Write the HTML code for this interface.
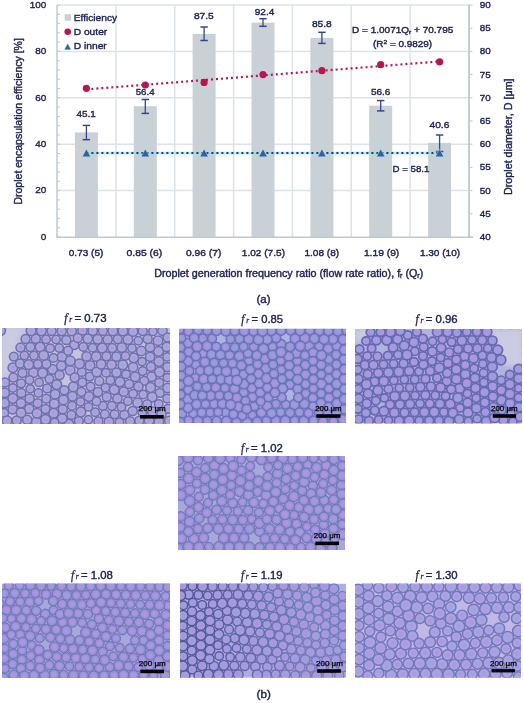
<!DOCTYPE html>
<html><head><meta charset="utf-8"><title>Droplet encapsulation</title>
<style>html,body{margin:0;padding:0;background:#fff;width:524px;height:703px;overflow:hidden}svg{display:block}</style>
</head><body>
<svg width="524" height="703" viewBox="0 0 524 703" font-family="'Liberation Sans', Arial, sans-serif"><defs><filter id="blur2" x="-20%" y="-20%" width="140%" height="140%"><feGaussianBlur stdDeviation="2"/></filter><filter id="blur" x="-5%" y="-5%" width="110%" height="110%"><feGaussianBlur stdDeviation="0.7"/></filter><clipPath id="c0"><rect x="2" y="328" width="168.0" height="96.0"/></clipPath><radialGradient id="g0_0"><stop offset="0" stop-color="#ae9bde"/><stop offset="0.3" stop-color="#ae9bde"/><stop offset="0.65" stop-color="#aca8db"/><stop offset="1" stop-color="#9d9ed0"/></radialGradient><radialGradient id="g0_1"><stop offset="0" stop-color="#aaa0de"/><stop offset="0.3" stop-color="#aaa0de"/><stop offset="0.65" stop-color="#a9aadb"/><stop offset="1" stop-color="#9b9cce"/></radialGradient><clipPath id="c1"><rect x="179" y="328.7" width="167.0" height="94.3"/></clipPath><radialGradient id="g1_0"><stop offset="0" stop-color="#ab94e4"/><stop offset="0.3" stop-color="#ab94e4"/><stop offset="0.65" stop-color="#9598d8"/><stop offset="1" stop-color="#767ac0"/></radialGradient><radialGradient id="g1_1"><stop offset="0" stop-color="#a497e2"/><stop offset="0.3" stop-color="#a497e2"/><stop offset="0.65" stop-color="#939ad6"/><stop offset="1" stop-color="#7478be"/></radialGradient><clipPath id="c2"><rect x="355" y="329" width="167.0" height="94.5"/></clipPath><radialGradient id="g2_0"><stop offset="0" stop-color="#ae94e6"/><stop offset="0.3" stop-color="#ae94e6"/><stop offset="0.65" stop-color="#a39adf"/><stop offset="1" stop-color="#9596d6"/></radialGradient><radialGradient id="g2_1"><stop offset="0" stop-color="#a897e4"/><stop offset="0.3" stop-color="#a897e4"/><stop offset="0.65" stop-color="#9d9cde"/><stop offset="1" stop-color="#9193d2"/></radialGradient><clipPath id="c3"><rect x="178" y="456" width="167.0" height="94.0"/></clipPath><radialGradient id="g3_0"><stop offset="0" stop-color="#b094e6"/><stop offset="0.3" stop-color="#b094e6"/><stop offset="0.65" stop-color="#9a96d6"/><stop offset="1" stop-color="#7f80c2"/></radialGradient><radialGradient id="g3_1"><stop offset="0" stop-color="#a897e4"/><stop offset="0.3" stop-color="#a897e4"/><stop offset="0.65" stop-color="#9898d4"/><stop offset="1" stop-color="#7d7ec0"/></radialGradient><clipPath id="c4"><rect x="2" y="583.4" width="168.0" height="94.6"/></clipPath><radialGradient id="g4_0"><stop offset="0" stop-color="#b094e6"/><stop offset="0.3" stop-color="#b094e6"/><stop offset="0.65" stop-color="#9a96d6"/><stop offset="1" stop-color="#7f80c2"/></radialGradient><radialGradient id="g4_1"><stop offset="0" stop-color="#a897e4"/><stop offset="0.3" stop-color="#a897e4"/><stop offset="0.65" stop-color="#9898d4"/><stop offset="1" stop-color="#7d7ec0"/></radialGradient><clipPath id="c5"><rect x="180" y="583.6" width="166.0" height="94.2"/></clipPath><radialGradient id="g5_0"><stop offset="0" stop-color="#ac94e4"/><stop offset="0.3" stop-color="#ac94e4"/><stop offset="0.65" stop-color="#a39ede"/><stop offset="1" stop-color="#9495d2"/></radialGradient><radialGradient id="g5_1"><stop offset="0" stop-color="#a699e2"/><stop offset="0.3" stop-color="#a699e2"/><stop offset="0.65" stop-color="#a1a0dc"/><stop offset="1" stop-color="#9293d0"/></radialGradient><clipPath id="c6"><rect x="355" y="583.4" width="166.0" height="94.4"/></clipPath><radialGradient id="g6_0"><stop offset="0" stop-color="#ae97e4"/><stop offset="0.3" stop-color="#ae97e4"/><stop offset="0.65" stop-color="#a9a6e2"/><stop offset="1" stop-color="#9a9cd3"/></radialGradient><radialGradient id="g6_1"><stop offset="0" stop-color="#aa9de4"/><stop offset="0.3" stop-color="#aa9de4"/><stop offset="0.65" stop-color="#a5a8e2"/><stop offset="1" stop-color="#989ad1"/></radialGradient></defs><line x1="57.0" y1="5.0" x2="469.0" y2="5.0" stroke="#dce3e8" stroke-width="1.5"/>
<line x1="57.0" y1="51.4" x2="469.0" y2="51.4" stroke="#dce3e8" stroke-width="1.5"/>
<line x1="57.0" y1="97.8" x2="469.0" y2="97.8" stroke="#dce3e8" stroke-width="1.5"/>
<line x1="57.0" y1="144.2" x2="469.0" y2="144.2" stroke="#dce3e8" stroke-width="1.5"/>
<line x1="57.0" y1="190.6" x2="469.0" y2="190.6" stroke="#dce3e8" stroke-width="1.5"/>
<line x1="115.9" y1="5.0" x2="115.9" y2="237.0" stroke="#dce3e8" stroke-width="1.5"/>
<line x1="174.7" y1="5.0" x2="174.7" y2="237.0" stroke="#dce3e8" stroke-width="1.5"/>
<line x1="233.6" y1="5.0" x2="233.6" y2="237.0" stroke="#dce3e8" stroke-width="1.5"/>
<line x1="292.4" y1="5.0" x2="292.4" y2="237.0" stroke="#dce3e8" stroke-width="1.5"/>
<line x1="351.3" y1="5.0" x2="351.3" y2="237.0" stroke="#dce3e8" stroke-width="1.5"/>
<line x1="410.1" y1="5.0" x2="410.1" y2="237.0" stroke="#dce3e8" stroke-width="1.5"/>
<rect x="74.9" y="132.4" width="23.0" height="104.6" fill="#c9d1d7"/>
<rect x="133.8" y="106.2" width="23.0" height="130.8" fill="#c9d1d7"/>
<rect x="192.6" y="34.0" width="23.0" height="203.0" fill="#c9d1d7"/>
<rect x="251.5" y="22.6" width="23.0" height="214.4" fill="#c9d1d7"/>
<rect x="310.4" y="37.9" width="23.0" height="199.1" fill="#c9d1d7"/>
<rect x="369.2" y="105.7" width="23.0" height="131.3" fill="#c9d1d7"/>
<rect x="428.1" y="142.8" width="23.0" height="94.2" fill="#c9d1d7"/>
<line x1="57.0" y1="5.0" x2="57.0" y2="237.5" stroke="#bccad2" stroke-width="1.5"/>
<line x1="469.0" y1="5.0" x2="469.0" y2="237.5" stroke="#bccad2" stroke-width="1.8"/>
<line x1="56.5" y1="237.3" x2="473.0" y2="237.3" stroke="#bccad2" stroke-width="1.6"/>
<line x1="57.0" y1="237.0" x2="60.0" y2="237.0" stroke="#bccad2" stroke-width="1"/>
<line x1="57.0" y1="227.7" x2="60.0" y2="227.7" stroke="#bccad2" stroke-width="1"/>
<line x1="57.0" y1="218.4" x2="60.0" y2="218.4" stroke="#bccad2" stroke-width="1"/>
<line x1="57.0" y1="209.2" x2="60.0" y2="209.2" stroke="#bccad2" stroke-width="1"/>
<line x1="57.0" y1="199.9" x2="60.0" y2="199.9" stroke="#bccad2" stroke-width="1"/>
<line x1="57.0" y1="190.6" x2="60.0" y2="190.6" stroke="#bccad2" stroke-width="1"/>
<line x1="57.0" y1="181.3" x2="60.0" y2="181.3" stroke="#bccad2" stroke-width="1"/>
<line x1="57.0" y1="172.0" x2="60.0" y2="172.0" stroke="#bccad2" stroke-width="1"/>
<line x1="57.0" y1="162.8" x2="60.0" y2="162.8" stroke="#bccad2" stroke-width="1"/>
<line x1="57.0" y1="153.5" x2="60.0" y2="153.5" stroke="#bccad2" stroke-width="1"/>
<line x1="57.0" y1="144.2" x2="60.0" y2="144.2" stroke="#bccad2" stroke-width="1"/>
<line x1="57.0" y1="134.9" x2="60.0" y2="134.9" stroke="#bccad2" stroke-width="1"/>
<line x1="57.0" y1="125.6" x2="60.0" y2="125.6" stroke="#bccad2" stroke-width="1"/>
<line x1="57.0" y1="116.4" x2="60.0" y2="116.4" stroke="#bccad2" stroke-width="1"/>
<line x1="57.0" y1="107.1" x2="60.0" y2="107.1" stroke="#bccad2" stroke-width="1"/>
<line x1="57.0" y1="97.8" x2="60.0" y2="97.8" stroke="#bccad2" stroke-width="1"/>
<line x1="57.0" y1="88.5" x2="60.0" y2="88.5" stroke="#bccad2" stroke-width="1"/>
<line x1="57.0" y1="79.2" x2="60.0" y2="79.2" stroke="#bccad2" stroke-width="1"/>
<line x1="57.0" y1="70.0" x2="60.0" y2="70.0" stroke="#bccad2" stroke-width="1"/>
<line x1="57.0" y1="60.7" x2="60.0" y2="60.7" stroke="#bccad2" stroke-width="1"/>
<line x1="57.0" y1="51.4" x2="60.0" y2="51.4" stroke="#bccad2" stroke-width="1"/>
<line x1="57.0" y1="42.1" x2="60.0" y2="42.1" stroke="#bccad2" stroke-width="1"/>
<line x1="57.0" y1="32.8" x2="60.0" y2="32.8" stroke="#bccad2" stroke-width="1"/>
<line x1="57.0" y1="23.6" x2="60.0" y2="23.6" stroke="#bccad2" stroke-width="1"/>
<line x1="57.0" y1="14.3" x2="60.0" y2="14.3" stroke="#bccad2" stroke-width="1"/>
<line x1="57.0" y1="5.0" x2="60.0" y2="5.0" stroke="#bccad2" stroke-width="1"/>
<line x1="469.0" y1="237.0" x2="472.5" y2="237.0" stroke="#bccad2" stroke-width="1"/>
<line x1="469.0" y1="213.8" x2="472.5" y2="213.8" stroke="#bccad2" stroke-width="1"/>
<line x1="469.0" y1="190.6" x2="472.5" y2="190.6" stroke="#bccad2" stroke-width="1"/>
<line x1="469.0" y1="167.4" x2="472.5" y2="167.4" stroke="#bccad2" stroke-width="1"/>
<line x1="469.0" y1="144.2" x2="472.5" y2="144.2" stroke="#bccad2" stroke-width="1"/>
<line x1="469.0" y1="121.0" x2="472.5" y2="121.0" stroke="#bccad2" stroke-width="1"/>
<line x1="469.0" y1="97.8" x2="472.5" y2="97.8" stroke="#bccad2" stroke-width="1"/>
<line x1="469.0" y1="74.6" x2="472.5" y2="74.6" stroke="#bccad2" stroke-width="1"/>
<line x1="469.0" y1="51.4" x2="472.5" y2="51.4" stroke="#bccad2" stroke-width="1"/>
<line x1="469.0" y1="28.2" x2="472.5" y2="28.2" stroke="#bccad2" stroke-width="1"/>
<line x1="469.0" y1="5.0" x2="472.5" y2="5.0" stroke="#bccad2" stroke-width="1"/>
<line x1="86.4" y1="125.4" x2="86.4" y2="139.7" stroke="#34488c" stroke-width="1.3"/>
<line x1="82.7" y1="125.4" x2="90.1" y2="125.4" stroke="#34488c" stroke-width="1.5"/>
<line x1="82.7" y1="139.7" x2="90.1" y2="139.7" stroke="#34488c" stroke-width="1.5"/>
<line x1="145.3" y1="99.5" x2="145.3" y2="113.4" stroke="#34488c" stroke-width="1.3"/>
<line x1="141.6" y1="99.5" x2="149.0" y2="99.5" stroke="#34488c" stroke-width="1.5"/>
<line x1="141.6" y1="113.4" x2="149.0" y2="113.4" stroke="#34488c" stroke-width="1.5"/>
<line x1="204.1" y1="27.0" x2="204.1" y2="40.5" stroke="#34488c" stroke-width="1.3"/>
<line x1="200.4" y1="27.0" x2="207.8" y2="27.0" stroke="#34488c" stroke-width="1.5"/>
<line x1="200.4" y1="40.5" x2="207.8" y2="40.5" stroke="#34488c" stroke-width="1.5"/>
<line x1="263.0" y1="18.7" x2="263.0" y2="26.3" stroke="#34488c" stroke-width="1.3"/>
<line x1="259.3" y1="18.7" x2="266.7" y2="18.7" stroke="#34488c" stroke-width="1.5"/>
<line x1="259.3" y1="26.3" x2="266.7" y2="26.3" stroke="#34488c" stroke-width="1.5"/>
<line x1="321.9" y1="32.3" x2="321.9" y2="43.4" stroke="#34488c" stroke-width="1.3"/>
<line x1="318.2" y1="32.3" x2="325.6" y2="32.3" stroke="#34488c" stroke-width="1.5"/>
<line x1="318.2" y1="43.4" x2="325.6" y2="43.4" stroke="#34488c" stroke-width="1.5"/>
<line x1="380.7" y1="100.6" x2="380.7" y2="110.9" stroke="#34488c" stroke-width="1.3"/>
<line x1="377.0" y1="100.6" x2="384.4" y2="100.6" stroke="#34488c" stroke-width="1.5"/>
<line x1="377.0" y1="110.9" x2="384.4" y2="110.9" stroke="#34488c" stroke-width="1.5"/>
<line x1="439.6" y1="135.0" x2="439.6" y2="151.5" stroke="#34488c" stroke-width="1.3"/>
<line x1="435.9" y1="135.0" x2="443.3" y2="135.0" stroke="#34488c" stroke-width="1.5"/>
<line x1="435.9" y1="151.5" x2="443.3" y2="151.5" stroke="#34488c" stroke-width="1.5"/>
<line x1="86.4" y1="153.0" x2="439.6" y2="153.0" stroke="#8fe6dc" stroke-width="3" stroke-dasharray="3 2" stroke-linecap="round" opacity="0.55"/>
<line x1="86.4" y1="153.0" x2="439.6" y2="153.0" stroke="#1f3a8c" stroke-width="2" stroke-dasharray="2 3"/>
<polygon points="86.4,149.6 90.2,156.4 82.7,156.4" fill="none" stroke="#8fe6dc" stroke-width="1.4" stroke-linejoin="round" opacity="0.7"/>
<polygon points="86.4,149.6 90.2,156.4 82.7,156.4" fill="#3b5aa6"/>
<polygon points="145.3,149.6 149.0,156.4 141.5,156.4" fill="none" stroke="#8fe6dc" stroke-width="1.4" stroke-linejoin="round" opacity="0.7"/>
<polygon points="145.3,149.6 149.0,156.4 141.5,156.4" fill="#3b5aa6"/>
<polygon points="204.1,149.6 207.9,156.4 200.4,156.4" fill="none" stroke="#8fe6dc" stroke-width="1.4" stroke-linejoin="round" opacity="0.7"/>
<polygon points="204.1,149.6 207.9,156.4 200.4,156.4" fill="#3b5aa6"/>
<polygon points="263.0,149.6 266.8,156.4 259.2,156.4" fill="none" stroke="#8fe6dc" stroke-width="1.4" stroke-linejoin="round" opacity="0.7"/>
<polygon points="263.0,149.6 266.8,156.4 259.2,156.4" fill="#3b5aa6"/>
<polygon points="321.9,149.6 325.6,156.4 318.1,156.4" fill="none" stroke="#8fe6dc" stroke-width="1.4" stroke-linejoin="round" opacity="0.7"/>
<polygon points="321.9,149.6 325.6,156.4 318.1,156.4" fill="#3b5aa6"/>
<polygon points="380.7,149.6 384.5,156.4 377.0,156.4" fill="none" stroke="#8fe6dc" stroke-width="1.4" stroke-linejoin="round" opacity="0.7"/>
<polygon points="380.7,149.6 384.5,156.4 377.0,156.4" fill="#3b5aa6"/>
<polygon points="439.6,149.6 443.3,156.4 435.8,156.4" fill="none" stroke="#8fe6dc" stroke-width="1.4" stroke-linejoin="round" opacity="0.7"/>
<polygon points="439.6,149.6 443.3,156.4 435.8,156.4" fill="#3b5aa6"/>
<line x1="86.4" y1="89.4" x2="439.6" y2="61.4" stroke="#b5175a" stroke-width="2.2" stroke-dasharray="2 3"/>
<circle cx="86.4" cy="88.3" r="3.6" fill="#b8164e"/>
<circle cx="145.3" cy="85.0" r="3.6" fill="#b8164e"/>
<circle cx="204.1" cy="82.4" r="3.6" fill="#b8164e"/>
<circle cx="263.0" cy="74.6" r="3.6" fill="#b8164e"/>
<circle cx="321.9" cy="70.7" r="3.6" fill="#b8164e"/>
<circle cx="380.7" cy="64.7" r="3.6" fill="#b8164e"/>
<circle cx="439.6" cy="61.8" r="3.6" fill="#b8164e"/>
<rect x="64.6" y="14.2" width="6.5" height="6.5" fill="#c9d1d7"/>
<circle cx="67.7" cy="31.8" r="3.3" fill="#b8164e"/>
<polygon points="67.7,44.0 70.7,49.4 64.7,49.4" fill="none" stroke="#8fe6dc" stroke-width="1.4" stroke-linejoin="round" opacity="0.7"/>
<polygon points="67.7,44.0 70.7,49.4 64.7,49.4" fill="#3b5aa6"/>
<text x="73.7" y="20.6" font-size="9.8" text-anchor="start" font-weight="normal" textLength="43.4" lengthAdjust="spacingAndGlyphs" fill="#1d2352" stroke="#1d2352" stroke-width="0.4">Efficiency</text>
<text x="73.7" y="35.3" font-size="9.8" text-anchor="start" font-weight="normal" textLength="33.6" lengthAdjust="spacingAndGlyphs" fill="#1d2352" stroke="#1d2352" stroke-width="0.4">D outer</text>
<text x="73.7" y="49.1" font-size="9.8" text-anchor="start" font-weight="normal" textLength="33.1" lengthAdjust="spacingAndGlyphs" fill="#1d2352" stroke="#1d2352" stroke-width="0.4">D inner</text>
<text x="76.5" y="117.2" font-size="9.8" text-anchor="start" font-weight="normal" textLength="19.3" lengthAdjust="spacingAndGlyphs" fill="#1d2352" stroke="#1d2352" stroke-width="0.4">45.1</text>
<text x="135.7" y="95.4" font-size="9.8" text-anchor="start" font-weight="normal" textLength="18.9" lengthAdjust="spacingAndGlyphs" fill="#1d2352" stroke="#1d2352" stroke-width="0.4">56.4</text>
<text x="193.9" y="18.8" font-size="9.8" text-anchor="start" font-weight="normal" textLength="19.9" lengthAdjust="spacingAndGlyphs" fill="#1d2352" stroke="#1d2352" stroke-width="0.4">87.5</text>
<text x="254.8" y="14.9" font-size="9.8" text-anchor="start" font-weight="normal" textLength="19.5" lengthAdjust="spacingAndGlyphs" fill="#1d2352" stroke="#1d2352" stroke-width="0.4">92.4</text>
<text x="311.9" y="27.0" font-size="9.8" text-anchor="start" font-weight="normal" textLength="19.9" lengthAdjust="spacingAndGlyphs" fill="#1d2352" stroke="#1d2352" stroke-width="0.4">85.8</text>
<text x="370.9" y="94.6" font-size="9.8" text-anchor="start" font-weight="normal" textLength="19.5" lengthAdjust="spacingAndGlyphs" fill="#1d2352" stroke="#1d2352" stroke-width="0.4">56.6</text>
<text x="429.5" y="128.4" font-size="9.8" text-anchor="start" font-weight="normal" textLength="19.9" lengthAdjust="spacingAndGlyphs" fill="#1d2352" stroke="#1d2352" stroke-width="0.4">40.6</text>
<text x="352.1" y="32.8" font-size="9" text-anchor="start" font-weight="normal" textLength="101.2" lengthAdjust="spacingAndGlyphs" fill="#1d2352" stroke="#1d2352" stroke-width="0.4">D = 1.0071Q<tspan font-size="6" dy="1.5">r</tspan><tspan dy="-1.5"> + 70.795</tspan></text>
<text x="373.0" y="46.9" font-size="9" text-anchor="start" font-weight="normal" textLength="59.0" lengthAdjust="spacingAndGlyphs" fill="#1d2352" stroke="#1d2352" stroke-width="0.4">(R<tspan font-size="6" dy="-3">2</tspan><tspan dy="3"> = 0.9829)</tspan></text>
<text x="392.4" y="172.4" font-size="9.5" text-anchor="start" font-weight="normal" textLength="37.1" lengthAdjust="spacingAndGlyphs" fill="#1d2352" stroke="#1d2352" stroke-width="0.4">D = 58.1</text>
<text x="46.2" y="239.7" font-size="9.9" text-anchor="end" font-weight="normal" fill="#1d2352" stroke="#1d2352" stroke-width="0.4">0</text>
<text x="46.2" y="193.3" font-size="9.9" text-anchor="end" font-weight="normal" fill="#1d2352" stroke="#1d2352" stroke-width="0.4">20</text>
<text x="46.2" y="146.9" font-size="9.9" text-anchor="end" font-weight="normal" fill="#1d2352" stroke="#1d2352" stroke-width="0.4">40</text>
<text x="46.2" y="100.5" font-size="9.9" text-anchor="end" font-weight="normal" fill="#1d2352" stroke="#1d2352" stroke-width="0.4">60</text>
<text x="46.2" y="54.1" font-size="9.9" text-anchor="end" font-weight="normal" fill="#1d2352" stroke="#1d2352" stroke-width="0.4">80</text>
<text x="46.2" y="7.7" font-size="9.9" text-anchor="end" font-weight="normal" fill="#1d2352" stroke="#1d2352" stroke-width="0.4">100</text>
<text x="479.8" y="239.9" font-size="9.9" text-anchor="start" font-weight="normal" fill="#1d2352" stroke="#1d2352" stroke-width="0.4">40</text>
<text x="479.8" y="216.7" font-size="9.9" text-anchor="start" font-weight="normal" fill="#1d2352" stroke="#1d2352" stroke-width="0.4">45</text>
<text x="479.8" y="193.5" font-size="9.9" text-anchor="start" font-weight="normal" fill="#1d2352" stroke="#1d2352" stroke-width="0.4">50</text>
<text x="479.8" y="170.3" font-size="9.9" text-anchor="start" font-weight="normal" fill="#1d2352" stroke="#1d2352" stroke-width="0.4">55</text>
<text x="479.8" y="147.1" font-size="9.9" text-anchor="start" font-weight="normal" fill="#1d2352" stroke="#1d2352" stroke-width="0.4">60</text>
<text x="479.8" y="123.9" font-size="9.9" text-anchor="start" font-weight="normal" fill="#1d2352" stroke="#1d2352" stroke-width="0.4">65</text>
<text x="479.8" y="100.7" font-size="9.9" text-anchor="start" font-weight="normal" fill="#1d2352" stroke="#1d2352" stroke-width="0.4">70</text>
<text x="479.8" y="77.5" font-size="9.9" text-anchor="start" font-weight="normal" fill="#1d2352" stroke="#1d2352" stroke-width="0.4">75</text>
<text x="479.8" y="54.3" font-size="9.9" text-anchor="start" font-weight="normal" fill="#1d2352" stroke="#1d2352" stroke-width="0.4">80</text>
<text x="479.8" y="31.1" font-size="9.9" text-anchor="start" font-weight="normal" fill="#1d2352" stroke="#1d2352" stroke-width="0.4">85</text>
<text x="479.8" y="7.9" font-size="9.9" text-anchor="start" font-weight="normal" fill="#1d2352" stroke="#1d2352" stroke-width="0.4">90</text>
<text x="68.8" y="255.8" font-size="9.2" text-anchor="start" font-weight="normal" textLength="34.5" lengthAdjust="spacingAndGlyphs" fill="#1d2352" stroke="#1d2352" stroke-width="0.4">0.73 (5)</text>
<text x="126.5" y="255.8" font-size="9.2" text-anchor="start" font-weight="normal" textLength="35.7" lengthAdjust="spacingAndGlyphs" fill="#1d2352" stroke="#1d2352" stroke-width="0.4">0.85 (6)</text>
<text x="186.0" y="255.8" font-size="9.2" text-anchor="start" font-weight="normal" textLength="35.3" lengthAdjust="spacingAndGlyphs" fill="#1d2352" stroke="#1d2352" stroke-width="0.4">0.96 (7)</text>
<text x="241.8" y="255.8" font-size="9.2" text-anchor="start" font-weight="normal" textLength="43.2" lengthAdjust="spacingAndGlyphs" fill="#1d2352" stroke="#1d2352" stroke-width="0.4">1.02 (7.5)</text>
<text x="304.4" y="255.8" font-size="9.2" text-anchor="start" font-weight="normal" textLength="34.7" lengthAdjust="spacingAndGlyphs" fill="#1d2352" stroke="#1d2352" stroke-width="0.4">1.08 (8)</text>
<text x="363.9" y="255.8" font-size="9.2" text-anchor="start" font-weight="normal" textLength="35.4" lengthAdjust="spacingAndGlyphs" fill="#1d2352" stroke="#1d2352" stroke-width="0.4">1.19 (9)</text>
<text x="419.9" y="255.8" font-size="9.2" text-anchor="start" font-weight="normal" textLength="40.2" lengthAdjust="spacingAndGlyphs" fill="#1d2352" stroke="#1d2352" stroke-width="0.4">1.30 (10)</text>
<text x="0" y="0" font-size="10.3" fill="#1d2352" stroke="#1d2352" stroke-width="0.4" textLength="166.5" lengthAdjust="spacingAndGlyphs" transform="translate(21.9,204.6) rotate(-90)">Droplet encapsulation efficiency [%]</text>
<text x="0" y="0" font-size="10.3" fill="#1d2352" stroke="#1d2352" stroke-width="0.4" textLength="116.6" lengthAdjust="spacingAndGlyphs" transform="translate(512.1,195) rotate(-90)">Droplet diameter, D [μm]</text>
<text x="154.2" y="276.9" font-size="10" text-anchor="start" font-weight="normal" textLength="269.1" lengthAdjust="spacingAndGlyphs" fill="#1d2352" stroke="#1d2352" stroke-width="0.4">Droplet generation frequency ratio (flow rate ratio), f<tspan font-size="6.5" dy="1.5">r</tspan><tspan dy="-1.5"> (Q</tspan><tspan font-size="6.5" dy="1.5">r</tspan><tspan dy="-1.5">)</tspan></text>
<text x="256.5" y="302.8" font-size="11" text-anchor="start" font-weight="normal" textLength="14.0" lengthAdjust="spacingAndGlyphs" fill="#1d2352" stroke="#1d2352" stroke-width="0.4">(a)</text>
<text x="256.5" y="697.8" font-size="11" text-anchor="start" font-weight="normal" textLength="14.3" lengthAdjust="spacingAndGlyphs" fill="#1d2352" stroke="#1d2352" stroke-width="0.4">(b)</text>
<g clip-path="url(#c0)">
<rect x="2" y="328" width="168.0" height="96.0" fill="#c3c3de"/>
<polygon points="2.0,328.0 22.0,328.0 18.0,338.0 14.0,352.0 10.0,362.0 6.0,376.0 2.0,382.0" fill="#cbcbe2" filter="url(#blur2)"/>
<g filter="url(#blur)" stroke="#7070ae" stroke-width="1.5">
<circle cx="90.0" cy="365.5" r="4.8" fill="url(#g0_0)"/>
<circle cx="167.4" cy="367.1" r="4.6" fill="url(#g0_1)"/>
<circle cx="16.7" cy="420.5" r="4.5" fill="url(#g0_0)"/>
<circle cx="167.1" cy="356.9" r="4.2" fill="url(#g0_1)"/>
<circle cx="56.8" cy="322.5" r="4.8" fill="url(#g0_0)"/>
<circle cx="71.4" cy="414.9" r="4.4" fill="url(#g0_0)"/>
<circle cx="152.9" cy="331.4" r="4.2" fill="url(#g0_1)"/>
<circle cx="77.0" cy="322.5" r="4.2" fill="url(#g0_0)"/>
<circle cx="98.4" cy="421.4" r="4.5" fill="url(#g0_0)"/>
<circle cx="4.7" cy="403.0" r="4.7" fill="url(#g0_0)"/>
<circle cx="133.8" cy="357.9" r="4.9" fill="url(#g0_0)"/>
<circle cx="92.8" cy="330.7" r="4.7" fill="url(#g0_1)"/>
<circle cx="52.5" cy="369.3" r="4.9" fill="url(#g0_1)"/>
<circle cx="150.1" cy="356.8" r="4.6" fill="url(#g0_0)"/>
<circle cx="45.5" cy="419.6" r="5.0" fill="url(#g0_1)"/>
<circle cx="81.7" cy="371.9" r="4.4" fill="url(#g0_1)"/>
<circle cx="68.8" cy="424.1" r="4.9" fill="url(#g0_0)"/>
<circle cx="29.6" cy="398.6" r="4.6" fill="url(#g0_1)"/>
<circle cx="35.8" cy="338.8" r="4.6" fill="url(#g0_0)"/>
<circle cx="133.1" cy="331.5" r="4.8" fill="url(#g0_1)"/>
<circle cx="49.4" cy="378.9" r="4.3" fill="url(#g0_1)"/>
<circle cx="82.5" cy="330.3" r="4.7" fill="url(#g0_0)"/>
<circle cx="175.5" cy="393.5" r="4.6" fill="url(#g0_1)"/>
<circle cx="167.6" cy="388.0" r="4.7" fill="url(#g0_1)"/>
<circle cx="137.7" cy="322.5" r="4.7" fill="url(#g0_1)"/>
<circle cx="95.2" cy="412.3" r="4.3" fill="url(#g0_0)"/>
<circle cx="36.3" cy="421.8" r="4.8" fill="url(#g0_0)"/>
<circle cx="22.6" cy="429.5" r="4.4" fill="url(#g0_1)"/>
<circle cx="167.9" cy="408.8" r="4.4" fill="url(#g0_0)"/>
<circle cx="88.9" cy="396.6" r="4.8" fill="url(#g0_0)"/>
<circle cx="97.8" cy="322.5" r="4.6" fill="url(#g0_1)"/>
<circle cx="142.7" cy="331.1" r="4.5" fill="url(#g0_1)"/>
<circle cx="103.7" cy="429.5" r="4.3" fill="url(#g0_1)"/>
<circle cx="159.7" cy="392.8" r="4.4" fill="url(#g0_1)"/>
<circle cx="96.2" cy="356.6" r="4.8" fill="url(#g0_1)"/>
<circle cx="80.5" cy="401.8" r="4.2" fill="url(#g0_0)"/>
<circle cx="0.8" cy="330.6" r="4.6" fill="url(#g0_0)"/>
<circle cx="121.8" cy="347.6" r="4.8" fill="url(#g0_1)"/>
<circle cx="158.5" cy="351.4" r="4.9" fill="url(#g0_0)"/>
<circle cx="105.4" cy="387.8" r="4.2" fill="url(#g0_0)"/>
<circle cx="47.1" cy="388.4" r="4.4" fill="url(#g0_1)"/>
<circle cx="151.7" cy="376.7" r="4.7" fill="url(#g0_1)"/>
<circle cx="89.7" cy="376.6" r="4.3" fill="url(#g0_1)"/>
<circle cx="90.6" cy="386.6" r="4.3" fill="url(#g0_1)"/>
<circle cx="134.9" cy="429.5" r="4.4" fill="url(#g0_1)"/>
<circle cx="12.9" cy="388.0" r="4.2" fill="url(#g0_1)"/>
<circle cx="139.3" cy="420.7" r="4.5" fill="url(#g0_0)"/>
<circle cx="117.9" cy="322.5" r="4.3" fill="url(#g0_0)"/>
<circle cx="150.9" cy="366.7" r="4.5" fill="url(#g0_0)"/>
<circle cx="21.3" cy="393.1" r="4.5" fill="url(#g0_0)"/>
<circle cx="143.2" cy="394.5" r="4.3" fill="url(#g0_1)"/>
<circle cx="34.0" cy="355.6" r="4.3" fill="url(#g0_1)"/>
<circle cx="154.5" cy="429.5" r="4.7" fill="url(#g0_1)"/>
<circle cx="152.2" cy="397.1" r="4.8" fill="url(#g0_1)"/>
<circle cx="144.2" cy="380.8" r="4.4" fill="url(#g0_0)"/>
<circle cx="87.5" cy="322.5" r="4.4" fill="url(#g0_0)"/>
<circle cx="46.6" cy="322.5" r="4.9" fill="url(#g0_0)"/>
<circle cx="-3.5" cy="347.0" r="4.3" fill="url(#g0_0)"/>
<circle cx="112.9" cy="330.9" r="4.8" fill="url(#g0_0)"/>
<circle cx="124.8" cy="429.5" r="4.6" fill="url(#g0_0)"/>
<circle cx="157.1" cy="322.5" r="4.9" fill="url(#g0_0)"/>
<circle cx="46.4" cy="364.0" r="4.4" fill="url(#g0_0)"/>
<circle cx="31.1" cy="330.7" r="4.9" fill="url(#g0_0)"/>
<circle cx="114.3" cy="389.7" r="4.9" fill="url(#g0_1)"/>
<circle cx="147.5" cy="322.5" r="4.6" fill="url(#g0_1)"/>
<circle cx="175.5" cy="322.5" r="4.5" fill="url(#g0_1)"/>
<circle cx="159.2" cy="382.7" r="4.4" fill="url(#g0_0)"/>
<circle cx="72.1" cy="405.9" r="4.3" fill="url(#g0_0)"/>
<circle cx="102.2" cy="348.0" r="4.9" fill="url(#g0_1)"/>
<circle cx="-3.5" cy="357.2" r="4.8" fill="url(#g0_1)"/>
<circle cx="124.4" cy="414.8" r="4.6" fill="url(#g0_0)"/>
<circle cx="158.7" cy="403.9" r="4.2" fill="url(#g0_0)"/>
<circle cx="162.5" cy="330.8" r="4.6" fill="url(#g0_1)"/>
<circle cx="161.5" cy="413.9" r="4.6" fill="url(#g0_1)"/>
<circle cx="114.6" cy="414.3" r="4.4" fill="url(#g0_1)"/>
<circle cx="40.1" cy="347.1" r="4.9" fill="url(#g0_1)"/>
<circle cx="123.8" cy="391.7" r="4.6" fill="url(#g0_0)"/>
<circle cx="30.3" cy="347.1" r="4.5" fill="url(#g0_1)"/>
<circle cx="158.0" cy="340.7" r="4.8" fill="url(#g0_0)"/>
<circle cx="4.9" cy="382.5" r="4.6" fill="url(#g0_1)"/>
<circle cx="138.4" cy="386.6" r="4.6" fill="url(#g0_0)"/>
<circle cx="21.1" cy="383.3" r="4.4" fill="url(#g0_1)"/>
<circle cx="56.7" cy="384.6" r="4.9" fill="url(#g0_1)"/>
<circle cx="56.1" cy="339.4" r="4.2" fill="url(#g0_0)"/>
<circle cx="121.5" cy="407.0" r="4.2" fill="url(#g0_0)"/>
<circle cx="24.4" cy="355.5" r="4.2" fill="url(#g0_0)"/>
<circle cx="62.2" cy="418.5" r="4.8" fill="url(#g0_1)"/>
<circle cx="-3.5" cy="377.5" r="4.5" fill="url(#g0_0)"/>
<circle cx="43.7" cy="355.4" r="4.8" fill="url(#g0_1)"/>
<circle cx="74.2" cy="345.1" r="4.5" fill="url(#g0_1)"/>
<circle cx="4.7" cy="392.8" r="4.7" fill="url(#g0_1)"/>
<circle cx="111.6" cy="364.7" r="4.7" fill="url(#g0_0)"/>
<circle cx="73.3" cy="386.9" r="4.8" fill="url(#g0_1)"/>
<circle cx="129.1" cy="384.0" r="4.4" fill="url(#g0_1)"/>
<circle cx="107.8" cy="322.5" r="4.2" fill="url(#g0_1)"/>
<circle cx="80.9" cy="412.0" r="4.9" fill="url(#g0_0)"/>
<circle cx="166.7" cy="322.5" r="4.8" fill="url(#g0_1)"/>
<circle cx="111.8" cy="405.8" r="4.4" fill="url(#g0_0)"/>
<circle cx="142.3" cy="412.2" r="4.3" fill="url(#g0_0)"/>
<circle cx="50.7" cy="429.5" r="4.2" fill="url(#g0_1)"/>
<circle cx="97.9" cy="392.1" r="4.6" fill="url(#g0_1)"/>
<circle cx="25.6" cy="338.9" r="4.5" fill="url(#g0_1)"/>
<circle cx="175.5" cy="362.2" r="4.3" fill="url(#g0_1)"/>
<circle cx="39.1" cy="382.4" r="4.2" fill="url(#g0_0)"/>
<circle cx="38.4" cy="392.9" r="4.2" fill="url(#g0_0)"/>
<circle cx="46.2" cy="398.7" r="4.4" fill="url(#g0_0)"/>
<circle cx="138.3" cy="340.7" r="4.2" fill="url(#g0_0)"/>
<circle cx="122.8" cy="364.9" r="4.8" fill="url(#g0_1)"/>
<circle cx="12.9" cy="398.4" r="4.9" fill="url(#g0_0)"/>
<circle cx="70.1" cy="370.3" r="4.8" fill="url(#g0_0)"/>
<circle cx="71.7" cy="331.1" r="4.7" fill="url(#g0_0)"/>
<circle cx="114.2" cy="429.5" r="5.0" fill="url(#g0_1)"/>
<circle cx="72.4" cy="396.3" r="4.7" fill="url(#g0_1)"/>
<circle cx="102.9" cy="405.9" r="4.3" fill="url(#g0_0)"/>
<circle cx="158.9" cy="361.6" r="4.8" fill="url(#g0_0)"/>
<circle cx="130.1" cy="421.2" r="4.5" fill="url(#g0_0)"/>
<circle cx="53.6" cy="413.2" r="4.9" fill="url(#g0_0)"/>
<circle cx="84.3" cy="429.5" r="4.2" fill="url(#g0_1)"/>
<circle cx="66.3" cy="340.0" r="4.6" fill="url(#g0_1)"/>
<circle cx="13.4" cy="377.6" r="4.5" fill="url(#g0_1)"/>
<circle cx="37.8" cy="364.1" r="4.3" fill="url(#g0_1)"/>
<circle cx="55.1" cy="394.2" r="4.7" fill="url(#g0_1)"/>
<circle cx="59.2" cy="348.0" r="4.2" fill="url(#g0_1)"/>
<circle cx="61.7" cy="331.1" r="4.6" fill="url(#g0_0)"/>
<circle cx="96.8" cy="372.0" r="4.8" fill="url(#g0_1)"/>
<circle cx="167.2" cy="398.6" r="4.3" fill="url(#g0_0)"/>
<circle cx="142.1" cy="361.6" r="4.1" fill="url(#g0_1)"/>
<circle cx="144.7" cy="429.5" r="4.7" fill="url(#g0_1)"/>
<circle cx="135.2" cy="376.8" r="4.7" fill="url(#g0_0)"/>
<circle cx="106.5" cy="356.3" r="4.5" fill="url(#g0_1)"/>
<circle cx="169.3" cy="420.9" r="4.7" fill="url(#g0_1)"/>
<circle cx="119.9" cy="381.9" r="4.9" fill="url(#g0_1)"/>
<circle cx="83.3" cy="346.9" r="4.3" fill="url(#g0_0)"/>
<circle cx="93.6" cy="429.5" r="4.7" fill="url(#g0_1)"/>
<circle cx="31.6" cy="429.5" r="4.8" fill="url(#g0_0)"/>
<circle cx="21.0" cy="403.1" r="4.7" fill="url(#g0_1)"/>
<circle cx="86.6" cy="356.4" r="4.7" fill="url(#g0_1)"/>
<circle cx="137.6" cy="402.8" r="4.8" fill="url(#g0_1)"/>
<circle cx="50.1" cy="348.2" r="4.3" fill="url(#g0_0)"/>
<circle cx="141.3" cy="351.0" r="4.7" fill="url(#g0_0)"/>
<circle cx="99.3" cy="381.1" r="4.5" fill="url(#g0_1)"/>
<circle cx="12.9" cy="367.7" r="4.8" fill="url(#g0_0)"/>
<circle cx="175.5" cy="352.1" r="4.2" fill="url(#g0_1)"/>
<circle cx="74.5" cy="429.5" r="4.4" fill="url(#g0_0)"/>
<circle cx="46.1" cy="339.3" r="4.3" fill="url(#g0_0)"/>
<circle cx="150.6" cy="387.5" r="4.9" fill="url(#g0_1)"/>
<circle cx="6.4" cy="322.5" r="4.9" fill="url(#g0_1)"/>
<circle cx="127.9" cy="322.5" r="4.4" fill="url(#g0_0)"/>
<circle cx="20.5" cy="347.6" r="4.5" fill="url(#g0_0)"/>
<circle cx="61.3" cy="429.5" r="4.6" fill="url(#g0_1)"/>
<circle cx="29.2" cy="408.9" r="4.7" fill="url(#g0_1)"/>
<circle cx="152.5" cy="411.9" r="4.8" fill="url(#g0_0)"/>
<circle cx="66.9" cy="322.5" r="4.6" fill="url(#g0_0)"/>
<circle cx="175.5" cy="403.8" r="4.9" fill="url(#g0_0)"/>
<circle cx="110.3" cy="380.3" r="4.3" fill="url(#g0_1)"/>
<circle cx="126.0" cy="374.2" r="4.3" fill="url(#g0_1)"/>
<circle cx="96.5" cy="401.4" r="4.3" fill="url(#g0_1)"/>
<circle cx="61.9" cy="357.0" r="4.8" fill="url(#g0_0)"/>
<circle cx="74.7" cy="377.6" r="4.5" fill="url(#g0_0)"/>
<circle cx="166.7" cy="346.9" r="4.6" fill="url(#g0_1)"/>
<circle cx="33.4" cy="372.8" r="4.8" fill="url(#g0_0)"/>
<circle cx="175.5" cy="372.6" r="4.8" fill="url(#g0_1)"/>
<circle cx="127.9" cy="339.6" r="4.8" fill="url(#g0_0)"/>
<circle cx="68.1" cy="350.7" r="4.4" fill="url(#g0_1)"/>
<circle cx="116.5" cy="372.6" r="4.7" fill="url(#g0_1)"/>
<circle cx="62.8" cy="409.3" r="4.5" fill="url(#g0_1)"/>
<circle cx="81.4" cy="391.8" r="4.4" fill="url(#g0_1)"/>
<circle cx="-3.5" cy="398.1" r="4.9" fill="url(#g0_1)"/>
<circle cx="88.5" cy="419.7" r="4.1" fill="url(#g0_1)"/>
<circle cx="175.5" cy="331.9" r="4.7" fill="url(#g0_0)"/>
<circle cx="51.6" cy="330.9" r="4.5" fill="url(#g0_1)"/>
<circle cx="133.1" cy="367.2" r="4.7" fill="url(#g0_1)"/>
<circle cx="77.8" cy="337.9" r="4.5" fill="url(#g0_0)"/>
<circle cx="30.2" cy="388.8" r="4.1" fill="url(#g0_1)"/>
<circle cx="159.5" cy="372.0" r="4.9" fill="url(#g0_1)"/>
<circle cx="-3.5" cy="337.5" r="4.6" fill="url(#g0_0)"/>
<circle cx="54.3" cy="403.8" r="4.8" fill="url(#g0_1)"/>
<circle cx="175.5" cy="383.0" r="4.5" fill="url(#g0_0)"/>
<circle cx="42.6" cy="373.0" r="4.9" fill="url(#g0_1)"/>
<circle cx="149.1" cy="420.6" r="4.8" fill="url(#g0_0)"/>
<circle cx="104.9" cy="414.2" r="4.4" fill="url(#g0_1)"/>
<circle cx="150.0" cy="347.3" r="4.6" fill="url(#g0_0)"/>
<circle cx="117.7" cy="339.2" r="4.4" fill="url(#g0_0)"/>
<circle cx="54.6" cy="422.4" r="4.2" fill="url(#g0_0)"/>
<circle cx="147.7" cy="339.1" r="4.5" fill="url(#g0_1)"/>
<circle cx="-3.5" cy="408.5" r="4.5" fill="url(#g0_0)"/>
<circle cx="79.4" cy="363.8" r="4.9" fill="url(#g0_0)"/>
<circle cx="61.3" cy="365.8" r="4.7" fill="url(#g0_1)"/>
<circle cx="82.3" cy="382.4" r="4.3" fill="url(#g0_1)"/>
<circle cx="13.5" cy="429.5" r="4.2" fill="url(#g0_1)"/>
<circle cx="36.4" cy="322.5" r="4.6" fill="url(#g0_0)"/>
<circle cx="97.7" cy="339.3" r="4.7" fill="url(#g0_1)"/>
<circle cx="63.5" cy="399.9" r="4.8" fill="url(#g0_1)"/>
<circle cx="142.7" cy="371.1" r="4.3" fill="url(#g0_1)"/>
<circle cx="112.2" cy="348.0" r="4.4" fill="url(#g0_0)"/>
<circle cx="165.1" cy="429.5" r="4.6" fill="url(#g0_0)"/>
<circle cx="132.0" cy="348.2" r="4.2" fill="url(#g0_1)"/>
<circle cx="106.8" cy="397.1" r="4.5" fill="url(#g0_0)"/>
<circle cx="41.6" cy="429.5" r="4.3" fill="url(#g0_0)"/>
<circle cx="132.6" cy="411.0" r="4.6" fill="url(#g0_0)"/>
<circle cx="37.6" cy="403.2" r="4.4" fill="url(#g0_0)"/>
<circle cx="4.3" cy="412.9" r="4.3" fill="url(#g0_1)"/>
<circle cx="175.5" cy="414.5" r="4.8" fill="url(#g0_0)"/>
<circle cx="92.6" cy="347.7" r="4.3" fill="url(#g0_1)"/>
<circle cx="133.1" cy="393.8" r="4.3" fill="url(#g0_1)"/>
<circle cx="88.5" cy="406.9" r="4.2" fill="url(#g0_0)"/>
<circle cx="109.0" cy="422.1" r="4.8" fill="url(#g0_0)"/>
<circle cx="-3.5" cy="429.5" r="4.3" fill="url(#g0_0)"/>
<circle cx="27.2" cy="419.8" r="4.6" fill="url(#g0_1)"/>
<circle cx="123.0" cy="331.0" r="4.8" fill="url(#g0_0)"/>
<circle cx="106.0" cy="372.8" r="4.3" fill="url(#g0_0)"/>
<circle cx="22.5" cy="373.0" r="4.5" fill="url(#g0_1)"/>
<circle cx="175.5" cy="429.5" r="4.9" fill="url(#g0_0)"/>
<circle cx="20.0" cy="363.5" r="4.5" fill="url(#g0_1)"/>
<circle cx="87.8" cy="338.7" r="4.7" fill="url(#g0_1)"/>
<circle cx="26.2" cy="322.5" r="4.2" fill="url(#g0_0)"/>
<circle cx="125.5" cy="355.9" r="4.2" fill="url(#g0_0)"/>
<circle cx="45.5" cy="409.0" r="4.4" fill="url(#g0_1)"/>
<circle cx="16.1" cy="322.5" r="4.4" fill="url(#g0_0)"/>
<circle cx="28.7" cy="364.6" r="4.9" fill="url(#g0_0)"/>
<circle cx="29.5" cy="380.0" r="4.2" fill="url(#g0_1)"/>
<circle cx="101.1" cy="364.2" r="4.7" fill="url(#g0_0)"/>
<circle cx="78.9" cy="421.2" r="4.4" fill="url(#g0_0)"/>
<circle cx="175.5" cy="342.2" r="4.8" fill="url(#g0_0)"/>
<circle cx="167.4" cy="377.6" r="4.2" fill="url(#g0_0)"/>
<circle cx="147.2" cy="404.1" r="4.4" fill="url(#g0_0)"/>
<circle cx="119.5" cy="422.3" r="4.3" fill="url(#g0_1)"/>
<circle cx="158.9" cy="421.8" r="4.8" fill="url(#g0_0)"/>
<circle cx="167.6" cy="337.5" r="4.5" fill="url(#g0_1)"/>
<circle cx="-3.5" cy="419.4" r="4.7" fill="url(#g0_0)"/>
<circle cx="12.7" cy="409.3" r="4.6" fill="url(#g0_0)"/>
<circle cx="59.5" cy="375.1" r="4.6" fill="url(#g0_0)"/>
<circle cx="-3.5" cy="322.5" r="4.6" fill="url(#g0_0)"/>
<circle cx="107.7" cy="339.5" r="4.6" fill="url(#g0_0)"/>
<circle cx="37.0" cy="413.3" r="4.8" fill="url(#g0_0)"/>
<circle cx="41.4" cy="330.8" r="4.9" fill="url(#g0_0)"/>
<circle cx="53.5" cy="358.0" r="4.3" fill="url(#g0_1)"/>
<circle cx="127.8" cy="401.3" r="4.2" fill="url(#g0_0)"/>
<circle cx="116.4" cy="356.7" r="4.6" fill="url(#g0_1)"/>
<circle cx="102.9" cy="330.9" r="4.4" fill="url(#g0_0)"/>
<circle cx="-3.5" cy="367.2" r="4.5" fill="url(#g0_0)"/>
<circle cx="70.3" cy="360.9" r="4.8" fill="url(#g0_1)"/>
<circle cx="117.4" cy="398.5" r="4.6" fill="url(#g0_0)"/>
<circle cx="13.8" cy="356.6" r="4.4" fill="url(#g0_1)"/>
<circle cx="64.3" cy="390.3" r="4.5" fill="url(#g0_1)"/>
<circle cx="-3.5" cy="387.7" r="4.2" fill="url(#g0_1)"/>
<circle cx="7.1" cy="420.9" r="4.8" fill="url(#g0_1)"/>
<circle cx="21.0" cy="412.7" r="4.8" fill="url(#g0_0)"/>
</g></g>
<text x="64.3" y="322.3" font-size="11.5" fill="#1d2352" stroke="#1d2352" stroke-width="0.3" font-family="'Liberation Serif', serif" font-style="italic">f</text>
<text x="69.2" y="322.3" font-size="7.5" fill="#1d2352" stroke="#1d2352" stroke-width="0.3" font-family="'Liberation Serif', serif" font-style="italic">r</text>
<text x="74.5" y="322.3" font-size="10.5" fill="#1d2352" stroke="#1d2352" stroke-width="0.4" textLength="32.0" lengthAdjust="spacingAndGlyphs">= 0.73</text>
<text x="138.8" y="411.4" font-size="7.8" fill="#000" stroke="#000" stroke-width="0.25" textLength="26.9" lengthAdjust="spacingAndGlyphs">200 μm</text>
<rect x="140" y="415" width="23.7" height="3.6" fill="#000"/>
<g clip-path="url(#c1)">
<rect x="179" y="328.7" width="167.0" height="94.3" fill="#adb4e2"/>
<g filter="url(#blur)" stroke="#6b70b7" stroke-width="1.1">
<circle cx="225.8" cy="330.9" r="5.2" fill="url(#g1_0)"/>
<circle cx="229.7" cy="355.3" r="4.7" fill="url(#g1_0)"/>
<circle cx="321.0" cy="403.1" r="5.0" fill="url(#g1_1)"/>
<circle cx="179.7" cy="329.3" r="4.6" fill="url(#g1_0)"/>
<circle cx="281.5" cy="369.8" r="4.5" fill="url(#g1_1)"/>
<circle cx="309.0" cy="346.0" r="5.1" fill="url(#g1_1)"/>
<circle cx="202.7" cy="338.6" r="4.8" fill="url(#g1_1)"/>
<circle cx="173.1" cy="322.8" r="5.2" fill="url(#g1_1)"/>
<circle cx="225.6" cy="412.5" r="4.7" fill="url(#g1_1)"/>
<circle cx="294.4" cy="404.6" r="5.2" fill="url(#g1_0)"/>
<circle cx="280.7" cy="360.8" r="4.6" fill="url(#g1_0)"/>
<circle cx="195.8" cy="364.4" r="4.6" fill="url(#g1_1)"/>
<circle cx="252.5" cy="396.9" r="5.0" fill="url(#g1_0)"/>
<circle cx="290.0" cy="384.6" r="4.8" fill="url(#g1_1)"/>
<circle cx="251.9" cy="428.9" r="5.2" fill="url(#g1_1)"/>
<circle cx="294.7" cy="420.7" r="4.7" fill="url(#g1_1)"/>
<circle cx="351.9" cy="384.1" r="5.1" fill="url(#g1_1)"/>
<circle cx="305.7" cy="393.6" r="4.6" fill="url(#g1_1)"/>
<circle cx="243.4" cy="374.4" r="4.9" fill="url(#g1_1)"/>
<circle cx="203.3" cy="353.4" r="4.8" fill="url(#g1_1)"/>
<circle cx="239.3" cy="356.1" r="5.1" fill="url(#g1_1)"/>
<circle cx="280.6" cy="412.3" r="4.6" fill="url(#g1_1)"/>
<circle cx="329.0" cy="378.9" r="5.1" fill="url(#g1_1)"/>
<circle cx="312.9" cy="398.0" r="4.8" fill="url(#g1_1)"/>
<circle cx="234.8" cy="371.9" r="5.0" fill="url(#g1_1)"/>
<circle cx="347.3" cy="428.9" r="4.6" fill="url(#g1_1)"/>
<circle cx="261.4" cy="412.7" r="5.0" fill="url(#g1_0)"/>
<circle cx="309.7" cy="330.6" r="4.7" fill="url(#g1_0)"/>
<circle cx="193.1" cy="413.6" r="4.6" fill="url(#g1_0)"/>
<circle cx="193.0" cy="428.9" r="5.0" fill="url(#g1_1)"/>
<circle cx="214.0" cy="403.9" r="5.0" fill="url(#g1_0)"/>
<circle cx="328.9" cy="359.3" r="4.5" fill="url(#g1_1)"/>
<circle cx="297.2" cy="361.3" r="4.6" fill="url(#g1_0)"/>
<circle cx="328.2" cy="348.7" r="5.0" fill="url(#g1_0)"/>
<circle cx="290.8" cy="330.5" r="4.7" fill="url(#g1_0)"/>
<circle cx="248.8" cy="361.0" r="4.5" fill="url(#g1_0)"/>
<circle cx="276.0" cy="420.9" r="5.1" fill="url(#g1_0)"/>
<circle cx="285.7" cy="404.5" r="4.5" fill="url(#g1_0)"/>
<circle cx="329.0" cy="397.9" r="4.9" fill="url(#g1_0)"/>
<circle cx="252.3" cy="415.1" r="4.4" fill="url(#g1_0)"/>
<circle cx="336.8" cy="393.6" r="4.4" fill="url(#g1_1)"/>
<circle cx="281.2" cy="344.4" r="5.0" fill="url(#g1_0)"/>
<circle cx="328.7" cy="406.9" r="4.8" fill="url(#g1_1)"/>
<circle cx="265.0" cy="358.9" r="5.1" fill="url(#g1_0)"/>
<circle cx="303.9" cy="420.9" r="5.1" fill="url(#g1_0)"/>
<circle cx="247.9" cy="353.3" r="4.6" fill="url(#g1_1)"/>
<circle cx="266.9" cy="322.8" r="4.4" fill="url(#g1_0)"/>
<circle cx="210.7" cy="395.6" r="5.1" fill="url(#g1_1)"/>
<circle cx="197.9" cy="330.2" r="4.5" fill="url(#g1_1)"/>
<circle cx="181.8" cy="413.7" r="4.9" fill="url(#g1_1)"/>
<circle cx="305.3" cy="365.1" r="5.0" fill="url(#g1_0)"/>
<circle cx="254.4" cy="406.2" r="4.6" fill="url(#g1_0)"/>
<circle cx="333.1" cy="322.8" r="4.5" fill="url(#g1_0)"/>
<circle cx="321.3" cy="383.9" r="5.3" fill="url(#g1_0)"/>
<circle cx="243.7" cy="392.4" r="4.6" fill="url(#g1_1)"/>
<circle cx="351.9" cy="336.1" r="4.5" fill="url(#g1_0)"/>
<circle cx="282.7" cy="388.4" r="5.1" fill="url(#g1_1)"/>
<circle cx="319.3" cy="331.0" r="4.8" fill="url(#g1_0)"/>
<circle cx="253.8" cy="346.8" r="4.7" fill="url(#g1_0)"/>
<circle cx="204.8" cy="362.0" r="5.0" fill="url(#g1_0)"/>
<circle cx="195.4" cy="377.6" r="4.4" fill="url(#g1_0)"/>
<circle cx="207.3" cy="330.7" r="4.4" fill="url(#g1_1)"/>
<circle cx="276.1" cy="337.9" r="4.9" fill="url(#g1_1)"/>
<circle cx="187.9" cy="399.4" r="5.2" fill="url(#g1_0)"/>
<circle cx="173.1" cy="389.9" r="4.8" fill="url(#g1_0)"/>
<circle cx="328.9" cy="369.2" r="4.5" fill="url(#g1_1)"/>
<circle cx="188.7" cy="351.8" r="4.9" fill="url(#g1_0)"/>
<circle cx="252.0" cy="388.2" r="4.8" fill="url(#g1_0)"/>
<circle cx="265.7" cy="368.7" r="5.2" fill="url(#g1_1)"/>
<circle cx="296.3" cy="353.0" r="5.3" fill="url(#g1_1)"/>
<circle cx="271.1" cy="428.9" r="5.2" fill="url(#g1_1)"/>
<circle cx="336.8" cy="346.1" r="4.7" fill="url(#g1_0)"/>
<circle cx="312.9" cy="406.3" r="4.5" fill="url(#g1_1)"/>
<circle cx="274.7" cy="383.3" r="5.2" fill="url(#g1_0)"/>
<circle cx="268.5" cy="397.4" r="4.7" fill="url(#g1_0)"/>
<circle cx="344.3" cy="409.2" r="4.8" fill="url(#g1_0)"/>
<circle cx="216.7" cy="420.7" r="4.8" fill="url(#g1_1)"/>
<circle cx="299.3" cy="428.9" r="4.7" fill="url(#g1_0)"/>
<circle cx="272.4" cy="346.7" r="4.5" fill="url(#g1_1)"/>
<circle cx="173.1" cy="333.1" r="5.3" fill="url(#g1_0)"/>
<circle cx="226.4" cy="421.1" r="5.0" fill="url(#g1_0)"/>
<circle cx="336.2" cy="354.8" r="4.8" fill="url(#g1_1)"/>
<circle cx="319.1" cy="346.4" r="4.5" fill="url(#g1_1)"/>
<circle cx="173.1" cy="399.5" r="4.9" fill="url(#g1_1)"/>
<circle cx="221.6" cy="428.9" r="5.1" fill="url(#g1_1)"/>
<circle cx="173.1" cy="409.4" r="5.1" fill="url(#g1_1)"/>
<circle cx="321.2" cy="374.4" r="4.5" fill="url(#g1_1)"/>
<circle cx="188.0" cy="361.3" r="5.0" fill="url(#g1_0)"/>
<circle cx="183.5" cy="428.9" r="5.1" fill="url(#g1_0)"/>
<circle cx="351.9" cy="403.9" r="4.6" fill="url(#g1_0)"/>
<circle cx="259.3" cy="383.2" r="5.2" fill="url(#g1_0)"/>
<circle cx="239.5" cy="322.8" r="5.0" fill="url(#g1_0)"/>
<circle cx="180.6" cy="347.4" r="4.7" fill="url(#g1_0)"/>
<circle cx="248.7" cy="322.8" r="5.2" fill="url(#g1_1)"/>
<circle cx="247.0" cy="422.2" r="4.9" fill="url(#g1_0)"/>
<circle cx="267.0" cy="339.5" r="5.3" fill="url(#g1_1)"/>
<circle cx="173.1" cy="342.4" r="4.9" fill="url(#g1_1)"/>
<circle cx="189.4" cy="371.0" r="4.5" fill="url(#g1_0)"/>
<circle cx="207.1" cy="346.0" r="5.3" fill="url(#g1_0)"/>
<circle cx="258.5" cy="373.8" r="5.0" fill="url(#g1_1)"/>
<circle cx="231.3" cy="428.9" r="4.6" fill="url(#g1_0)"/>
<circle cx="290.0" cy="412.8" r="4.8" fill="url(#g1_1)"/>
<circle cx="239.4" cy="338.9" r="4.8" fill="url(#g1_1)"/>
<circle cx="343.1" cy="419.6" r="5.2" fill="url(#g1_0)"/>
<circle cx="351.9" cy="364.5" r="5.2" fill="url(#g1_0)"/>
<circle cx="181.2" cy="375.6" r="4.6" fill="url(#g1_1)"/>
<circle cx="211.5" cy="354.5" r="5.0" fill="url(#g1_0)"/>
<circle cx="280.5" cy="428.9" r="4.9" fill="url(#g1_1)"/>
<circle cx="313.2" cy="352.9" r="5.1" fill="url(#g1_0)"/>
<circle cx="180.6" cy="385.1" r="4.6" fill="url(#g1_1)"/>
<circle cx="203.8" cy="379.1" r="5.2" fill="url(#g1_0)"/>
<circle cx="260.3" cy="392.5" r="4.9" fill="url(#g1_0)"/>
<circle cx="295.2" cy="338.8" r="5.2" fill="url(#g1_0)"/>
<circle cx="336.6" cy="374.2" r="4.9" fill="url(#g1_0)"/>
<circle cx="328.3" cy="428.9" r="4.8" fill="url(#g1_1)"/>
<circle cx="313.4" cy="388.6" r="4.6" fill="url(#g1_0)"/>
<circle cx="180.7" cy="356.7" r="5.1" fill="url(#g1_1)"/>
<circle cx="288.7" cy="356.5" r="5.1" fill="url(#g1_0)"/>
<circle cx="188.4" cy="389.7" r="4.8" fill="url(#g1_1)"/>
<circle cx="221.1" cy="322.8" r="5.2" fill="url(#g1_1)"/>
<circle cx="276.3" cy="322.8" r="4.5" fill="url(#g1_1)"/>
<circle cx="243.9" cy="384.1" r="5.1" fill="url(#g1_1)"/>
<circle cx="261.7" cy="428.9" r="5.0" fill="url(#g1_0)"/>
<circle cx="321.2" cy="364.8" r="4.9" fill="url(#g1_1)"/>
<circle cx="321.1" cy="393.6" r="4.5" fill="url(#g1_1)"/>
<circle cx="263.5" cy="348.8" r="5.3" fill="url(#g1_1)"/>
<circle cx="321.5" cy="355.4" r="5.2" fill="url(#g1_1)"/>
<circle cx="250.3" cy="369.6" r="5.0" fill="url(#g1_1)"/>
<circle cx="351.9" cy="354.8" r="4.8" fill="url(#g1_1)"/>
<circle cx="289.7" cy="374.9" r="5.1" fill="url(#g1_1)"/>
<circle cx="343.2" cy="339.6" r="5.2" fill="url(#g1_1)"/>
<circle cx="173.1" cy="418.5" r="4.8" fill="url(#g1_0)"/>
<circle cx="329.0" cy="388.6" r="4.6" fill="url(#g1_0)"/>
<circle cx="271.4" cy="330.7" r="5.0" fill="url(#g1_1)"/>
<circle cx="304.8" cy="338.1" r="5.2" fill="url(#g1_0)"/>
<circle cx="210.1" cy="412.6" r="4.5" fill="url(#g1_0)"/>
<circle cx="272.5" cy="355.2" r="5.1" fill="url(#g1_1)"/>
<circle cx="234.8" cy="347.6" r="4.6" fill="url(#g1_1)"/>
<circle cx="183.5" cy="322.8" r="4.8" fill="url(#g1_0)"/>
<circle cx="173.1" cy="380.3" r="5.2" fill="url(#g1_1)"/>
<circle cx="336.7" cy="383.9" r="5.2" fill="url(#g1_1)"/>
<circle cx="299.4" cy="412.3" r="4.6" fill="url(#g1_1)"/>
<circle cx="212.1" cy="338.5" r="4.5" fill="url(#g1_0)"/>
<circle cx="222.4" cy="403.7" r="5.1" fill="url(#g1_1)"/>
<circle cx="266.5" cy="420.7" r="4.5" fill="url(#g1_0)"/>
<circle cx="327.5" cy="414.7" r="5.1" fill="url(#g1_1)"/>
<circle cx="194.8" cy="395.2" r="5.1" fill="url(#g1_1)"/>
<circle cx="351.9" cy="374.3" r="5.0" fill="url(#g1_1)"/>
<circle cx="342.2" cy="322.8" r="5.1" fill="url(#g1_1)"/>
<circle cx="215.7" cy="387.4" r="5.0" fill="url(#g1_0)"/>
<circle cx="285.9" cy="322.8" r="4.8" fill="url(#g1_0)"/>
<circle cx="248.8" cy="339.1" r="5.2" fill="url(#g1_1)"/>
<circle cx="297.5" cy="370.2" r="5.2" fill="url(#g1_0)"/>
<circle cx="188.4" cy="331.4" r="4.7" fill="url(#g1_0)"/>
<circle cx="257.6" cy="364.4" r="4.6" fill="url(#g1_0)"/>
<circle cx="285.2" cy="420.7" r="5.2" fill="url(#g1_1)"/>
<circle cx="304.4" cy="403.9" r="5.1" fill="url(#g1_1)"/>
<circle cx="338.2" cy="428.9" r="4.8" fill="url(#g1_0)"/>
<circle cx="211.8" cy="322.8" r="4.6" fill="url(#g1_1)"/>
<circle cx="200.1" cy="370.7" r="4.5" fill="url(#g1_0)"/>
<circle cx="245.5" cy="400.9" r="4.5" fill="url(#g1_1)"/>
<circle cx="281.7" cy="397.4" r="4.7" fill="url(#g1_0)"/>
<circle cx="344.1" cy="359.5" r="5.1" fill="url(#g1_0)"/>
<circle cx="308.5" cy="413.2" r="4.7" fill="url(#g1_0)"/>
<circle cx="313.1" cy="361.0" r="4.6" fill="url(#g1_0)"/>
<circle cx="344.4" cy="349.8" r="5.1" fill="url(#g1_0)"/>
<circle cx="217.6" cy="371.0" r="4.9" fill="url(#g1_0)"/>
<circle cx="220.8" cy="379.4" r="5.1" fill="url(#g1_1)"/>
<circle cx="242.2" cy="415.7" r="4.5" fill="url(#g1_1)"/>
<circle cx="234.6" cy="388.8" r="5.2" fill="url(#g1_0)"/>
<circle cx="281.1" cy="330.5" r="4.9" fill="url(#g1_1)"/>
<circle cx="344.3" cy="379.1" r="5.2" fill="url(#g1_1)"/>
<circle cx="196.0" cy="356.2" r="4.8" fill="url(#g1_1)"/>
<circle cx="275.9" cy="404.0" r="4.5" fill="url(#g1_0)"/>
<circle cx="295.4" cy="322.8" r="5.2" fill="url(#g1_0)"/>
<circle cx="267.3" cy="387.7" r="4.7" fill="url(#g1_0)"/>
<circle cx="336.8" cy="403.3" r="5.0" fill="url(#g1_0)"/>
<circle cx="304.9" cy="322.8" r="4.5" fill="url(#g1_0)"/>
<circle cx="323.7" cy="322.8" r="5.1" fill="url(#g1_1)"/>
<circle cx="198.0" cy="421.2" r="5.2" fill="url(#g1_0)"/>
<circle cx="207.2" cy="420.9" r="4.5" fill="url(#g1_0)"/>
<circle cx="188.3" cy="342.9" r="4.9" fill="url(#g1_0)"/>
<circle cx="313.6" cy="420.8" r="4.9" fill="url(#g1_0)"/>
<circle cx="344.2" cy="369.3" r="4.9" fill="url(#g1_0)"/>
<circle cx="173.1" cy="371.0" r="4.8" fill="url(#g1_0)"/>
<circle cx="313.3" cy="370.0" r="4.6" fill="url(#g1_1)"/>
<circle cx="304.9" cy="355.3" r="4.5" fill="url(#g1_0)"/>
<circle cx="336.4" cy="412.8" r="4.7" fill="url(#g1_1)"/>
<circle cx="229.2" cy="380.2" r="5.0" fill="url(#g1_0)"/>
<circle cx="308.8" cy="428.9" r="5.1" fill="url(#g1_0)"/>
<circle cx="212.1" cy="379.0" r="4.6" fill="url(#g1_1)"/>
<circle cx="188.5" cy="420.7" r="4.7" fill="url(#g1_0)"/>
<circle cx="305.5" cy="384.1" r="4.8" fill="url(#g1_1)"/>
<circle cx="181.0" cy="366.5" r="4.9" fill="url(#g1_1)"/>
<circle cx="297.6" cy="388.8" r="4.9" fill="url(#g1_1)"/>
<circle cx="230.3" cy="322.8" r="4.6" fill="url(#g1_0)"/>
<circle cx="267.3" cy="406.2" r="5.0" fill="url(#g1_0)"/>
<circle cx="332.9" cy="339.2" r="5.1" fill="url(#g1_0)"/>
<circle cx="212.1" cy="428.9" r="4.9" fill="url(#g1_0)"/>
<circle cx="257.8" cy="322.8" r="5.1" fill="url(#g1_1)"/>
<circle cx="236.8" cy="397.8" r="5.1" fill="url(#g1_0)"/>
<circle cx="202.3" cy="395.5" r="4.9" fill="url(#g1_0)"/>
<circle cx="266.6" cy="378.3" r="5.3" fill="url(#g1_0)"/>
<circle cx="216.6" cy="330.7" r="4.9" fill="url(#g1_0)"/>
<circle cx="318.8" cy="412.8" r="4.5" fill="url(#g1_1)"/>
<circle cx="281.0" cy="352.1" r="5.3" fill="url(#g1_0)"/>
<circle cx="220.4" cy="354.9" r="5.0" fill="url(#g1_1)"/>
<circle cx="351.9" cy="394.0" r="4.9" fill="url(#g1_0)"/>
<circle cx="241.6" cy="428.9" r="4.8" fill="url(#g1_0)"/>
<circle cx="300.1" cy="330.7" r="5.0" fill="url(#g1_0)"/>
<circle cx="305.5" cy="374.6" r="5.1" fill="url(#g1_0)"/>
<circle cx="228.3" cy="396.0" r="4.7" fill="url(#g1_1)"/>
<circle cx="173.1" cy="352.0" r="5.1" fill="url(#g1_0)"/>
<circle cx="333.4" cy="421.4" r="4.5" fill="url(#g1_0)"/>
<circle cx="344.4" cy="389.0" r="4.8" fill="url(#g1_1)"/>
<circle cx="202.4" cy="322.8" r="4.7" fill="url(#g1_1)"/>
<circle cx="194.2" cy="337.9" r="4.9" fill="url(#g1_1)"/>
<circle cx="253.4" cy="331.2" r="4.8" fill="url(#g1_1)"/>
<circle cx="273.1" cy="364.5" r="4.6" fill="url(#g1_1)"/>
<circle cx="351.9" cy="422.5" r="5.0" fill="url(#g1_0)"/>
<circle cx="346.7" cy="330.3" r="4.7" fill="url(#g1_0)"/>
<circle cx="351.9" cy="345.1" r="5.1" fill="url(#g1_0)"/>
<circle cx="282.1" cy="379.0" r="4.6" fill="url(#g1_1)"/>
<circle cx="256.8" cy="355.4" r="4.9" fill="url(#g1_1)"/>
<circle cx="214.2" cy="362.7" r="4.5" fill="url(#g1_1)"/>
<circle cx="181.4" cy="338.0" r="4.4" fill="url(#g1_0)"/>
<circle cx="201.6" cy="412.6" r="4.6" fill="url(#g1_1)"/>
<circle cx="241.4" cy="365.4" r="5.0" fill="url(#g1_1)"/>
<circle cx="188.1" cy="407.8" r="5.0" fill="url(#g1_1)"/>
<circle cx="192.7" cy="322.8" r="5.1" fill="url(#g1_0)"/>
<circle cx="173.1" cy="361.6" r="4.7" fill="url(#g1_0)"/>
<circle cx="289.2" cy="365.5" r="5.0" fill="url(#g1_1)"/>
<circle cx="271.6" cy="413.2" r="5.0" fill="url(#g1_1)"/>
<circle cx="219.4" cy="395.5" r="4.6" fill="url(#g1_0)"/>
<circle cx="273.9" cy="373.8" r="4.6" fill="url(#g1_1)"/>
<circle cx="243.6" cy="346.7" r="4.5" fill="url(#g1_1)"/>
<circle cx="298.3" cy="397.5" r="4.8" fill="url(#g1_1)"/>
<circle cx="351.9" cy="413.7" r="4.6" fill="url(#g1_0)"/>
<circle cx="238.5" cy="406.9" r="5.1" fill="url(#g1_0)"/>
<circle cx="289.9" cy="428.9" r="4.9" fill="url(#g1_0)"/>
<circle cx="208.7" cy="370.5" r="5.0" fill="url(#g1_1)"/>
<circle cx="336.5" cy="364.5" r="4.7" fill="url(#g1_1)"/>
<circle cx="290.0" cy="346.8" r="4.9" fill="url(#g1_1)"/>
<circle cx="196.6" cy="404.3" r="5.0" fill="url(#g1_0)"/>
<circle cx="218.1" cy="412.2" r="4.4" fill="url(#g1_0)"/>
<circle cx="197.3" cy="386.5" r="4.5" fill="url(#g1_1)"/>
<circle cx="205.5" cy="404.1" r="4.5" fill="url(#g1_0)"/>
<circle cx="226.3" cy="371.4" r="5.2" fill="url(#g1_0)"/>
<circle cx="323.1" cy="421.6" r="4.9" fill="url(#g1_0)"/>
<circle cx="260.6" cy="401.5" r="4.5" fill="url(#g1_1)"/>
<circle cx="225.5" cy="347.1" r="4.6" fill="url(#g1_0)"/>
<circle cx="251.2" cy="378.9" r="4.7" fill="url(#g1_1)"/>
<circle cx="225.0" cy="387.9" r="4.5" fill="url(#g1_1)"/>
<circle cx="314.4" cy="338.6" r="5.1" fill="url(#g1_1)"/>
<circle cx="179.7" cy="422.3" r="5.2" fill="url(#g1_1)"/>
<circle cx="230.6" cy="404.8" r="5.2" fill="url(#g1_0)"/>
<circle cx="234.9" cy="330.9" r="4.7" fill="url(#g1_0)"/>
<circle cx="197.2" cy="346.6" r="5.3" fill="url(#g1_0)"/>
<circle cx="314.4" cy="322.8" r="4.5" fill="url(#g1_1)"/>
<circle cx="202.6" cy="428.9" r="4.6" fill="url(#g1_0)"/>
<circle cx="230.4" cy="339.2" r="4.4" fill="url(#g1_1)"/>
<circle cx="180.2" cy="404.2" r="4.7" fill="url(#g1_0)"/>
<circle cx="313.4" cy="379.3" r="4.9" fill="url(#g1_0)"/>
<circle cx="244.2" cy="330.9" r="5.2" fill="url(#g1_0)"/>
<circle cx="300.2" cy="346.1" r="5.2" fill="url(#g1_0)"/>
<circle cx="216.3" cy="346.7" r="4.6" fill="url(#g1_0)"/>
<circle cx="180.7" cy="394.6" r="4.5" fill="url(#g1_1)"/>
<circle cx="232.5" cy="363.4" r="4.6" fill="url(#g1_1)"/>
<circle cx="324.1" cy="339.3" r="5.1" fill="url(#g1_0)"/>
<circle cx="318.3" cy="428.9" r="4.8" fill="url(#g1_1)"/>
<circle cx="237.0" cy="380.4" r="5.3" fill="url(#g1_0)"/>
<circle cx="328.5" cy="330.9" r="4.8" fill="url(#g1_1)"/>
<circle cx="173.1" cy="428.9" r="5.1" fill="url(#g1_1)"/>
<circle cx="274.9" cy="392.7" r="4.9" fill="url(#g1_0)"/>
<circle cx="223.4" cy="363.1" r="4.5" fill="url(#g1_1)"/>
<circle cx="258.4" cy="339.6" r="5.3" fill="url(#g1_1)"/>
<circle cx="206.6" cy="387.3" r="4.6" fill="url(#g1_1)"/>
<circle cx="337.8" cy="331.4" r="4.6" fill="url(#g1_1)"/>
<circle cx="236.4" cy="422.2" r="4.6" fill="url(#g1_0)"/>
<circle cx="344.4" cy="399.0" r="5.0" fill="url(#g1_0)"/>
<circle cx="188.5" cy="381.0" r="5.2" fill="url(#g1_0)"/>
<circle cx="246.7" cy="409.0" r="4.9" fill="url(#g1_1)"/>
<circle cx="257.2" cy="421.5" r="4.6" fill="url(#g1_1)"/>
<circle cx="297.6" cy="379.5" r="5.2" fill="url(#g1_1)"/>
<circle cx="233.4" cy="414.2" r="4.6" fill="url(#g1_0)"/>
<circle cx="262.4" cy="331.1" r="5.2" fill="url(#g1_1)"/>
</g></g>
<text x="241.3" y="322.6" font-size="11.5" fill="#1d2352" stroke="#1d2352" stroke-width="0.3" font-family="'Liberation Serif', serif" font-style="italic">f</text>
<text x="246.2" y="322.6" font-size="7.5" fill="#1d2352" stroke="#1d2352" stroke-width="0.3" font-family="'Liberation Serif', serif" font-style="italic">r</text>
<text x="251.5" y="322.6" font-size="10.5" fill="#1d2352" stroke="#1d2352" stroke-width="0.4" textLength="31.5" lengthAdjust="spacingAndGlyphs">= 0.85</text>
<text x="315.2" y="411.4" font-size="7.8" fill="#000" stroke="#000" stroke-width="0.25" textLength="26.5" lengthAdjust="spacingAndGlyphs">200 μm</text>
<rect x="316.3" y="414.2" width="24.2" height="3.6" fill="#000"/>
<g clip-path="url(#c2)">
<rect x="355" y="329" width="167.0" height="94.5" fill="#b0b4dd"/>
<polygon points="355.0,329.0 373.0,329.0 365.0,337.0 355.0,345.0" fill="#cbcbe2" filter="url(#blur2)"/>
<polygon points="491.0,329.0 523.0,329.0 523.0,366.0 505.0,366.0 500.0,354.0 493.0,339.0" fill="#cbcbe2" filter="url(#blur2)"/>
<g filter="url(#blur)" stroke="#6769af" stroke-width="1.7">
<circle cx="358.4" cy="379.0" r="4.6" fill="url(#g2_1)"/>
<circle cx="383.5" cy="429.0" r="4.5" fill="url(#g2_0)"/>
<circle cx="497.7" cy="350.0" r="4.9" fill="url(#g2_1)"/>
<circle cx="451.6" cy="342.0" r="4.3" fill="url(#g2_1)"/>
<circle cx="357.8" cy="323.5" r="4.6" fill="url(#g2_1)"/>
<circle cx="414.1" cy="429.0" r="4.3" fill="url(#g2_0)"/>
<circle cx="434.0" cy="429.0" r="4.6" fill="url(#g2_0)"/>
<circle cx="366.1" cy="341.0" r="4.2" fill="url(#g2_0)"/>
<circle cx="487.8" cy="348.3" r="4.2" fill="url(#g2_1)"/>
<circle cx="349.5" cy="333.4" r="4.7" fill="url(#g2_1)"/>
<circle cx="404.9" cy="395.9" r="4.9" fill="url(#g2_1)"/>
<circle cx="430.1" cy="371.1" r="4.6" fill="url(#g2_0)"/>
<circle cx="419.2" cy="420.6" r="4.2" fill="url(#g2_0)"/>
<circle cx="458.0" cy="349.3" r="4.4" fill="url(#g2_1)"/>
<circle cx="486.2" cy="421.2" r="4.8" fill="url(#g2_1)"/>
<circle cx="527.5" cy="373.4" r="4.5" fill="url(#g2_1)"/>
<circle cx="390.0" cy="404.6" r="4.5" fill="url(#g2_0)"/>
<circle cx="467.6" cy="402.8" r="4.7" fill="url(#g2_0)"/>
<circle cx="481.4" cy="429.0" r="5.0" fill="url(#g2_0)"/>
<circle cx="388.6" cy="389.1" r="4.4" fill="url(#g2_0)"/>
<circle cx="349.5" cy="403.2" r="4.3" fill="url(#g2_1)"/>
<circle cx="527.5" cy="382.9" r="4.2" fill="url(#g2_1)"/>
<circle cx="397.5" cy="339.4" r="4.8" fill="url(#g2_1)"/>
<circle cx="393.9" cy="380.5" r="4.2" fill="url(#g2_1)"/>
<circle cx="518.7" cy="429.0" r="4.9" fill="url(#g2_0)"/>
<circle cx="449.0" cy="421.1" r="4.8" fill="url(#g2_1)"/>
<circle cx="423.1" cy="323.5" r="4.4" fill="url(#g2_1)"/>
<circle cx="501.4" cy="400.3" r="5.0" fill="url(#g2_1)"/>
<circle cx="477.3" cy="348.4" r="4.6" fill="url(#g2_0)"/>
<circle cx="407.7" cy="335.2" r="4.4" fill="url(#g2_1)"/>
<circle cx="349.5" cy="421.9" r="4.2" fill="url(#g2_1)"/>
<circle cx="472.8" cy="429.0" r="4.9" fill="url(#g2_1)"/>
<circle cx="518.7" cy="378.6" r="4.9" fill="url(#g2_1)"/>
<circle cx="378.3" cy="373.0" r="4.6" fill="url(#g2_0)"/>
<circle cx="465.3" cy="374.2" r="4.9" fill="url(#g2_1)"/>
<circle cx="399.0" cy="420.9" r="4.7" fill="url(#g2_0)"/>
<circle cx="485.4" cy="412.2" r="4.5" fill="url(#g2_1)"/>
<circle cx="481.7" cy="323.5" r="4.6" fill="url(#g2_0)"/>
<circle cx="386.8" cy="340.1" r="5.0" fill="url(#g2_1)"/>
<circle cx="503.5" cy="420.1" r="4.6" fill="url(#g2_0)"/>
<circle cx="475.0" cy="378.0" r="4.7" fill="url(#g2_1)"/>
<circle cx="484.4" cy="392.3" r="4.9" fill="url(#g2_1)"/>
<circle cx="501.9" cy="410.3" r="4.2" fill="url(#g2_0)"/>
<circle cx="415.1" cy="395.5" r="4.2" fill="url(#g2_1)"/>
<circle cx="493.5" cy="407.0" r="4.5" fill="url(#g2_1)"/>
<circle cx="509.8" cy="374.7" r="4.3" fill="url(#g2_1)"/>
<circle cx="359.5" cy="349.2" r="4.4" fill="url(#g2_1)"/>
<circle cx="403.9" cy="429.0" r="4.8" fill="url(#g2_0)"/>
<circle cx="432.9" cy="323.5" r="4.3" fill="url(#g2_1)"/>
<circle cx="375.9" cy="400.7" r="4.3" fill="url(#g2_1)"/>
<circle cx="477.1" cy="418.8" r="4.2" fill="url(#g2_1)"/>
<circle cx="393.1" cy="347.4" r="4.7" fill="url(#g2_0)"/>
<circle cx="519.3" cy="323.5" r="4.8" fill="url(#g2_0)"/>
<circle cx="383.8" cy="381.3" r="4.8" fill="url(#g2_0)"/>
<circle cx="448.0" cy="363.2" r="4.5" fill="url(#g2_0)"/>
<circle cx="419.0" cy="371.6" r="4.2" fill="url(#g2_0)"/>
<circle cx="456.3" cy="369.5" r="4.8" fill="url(#g2_0)"/>
<circle cx="368.9" cy="420.9" r="4.4" fill="url(#g2_0)"/>
<circle cx="380.7" cy="332.0" r="4.4" fill="url(#g2_0)"/>
<circle cx="499.6" cy="429.0" r="4.6" fill="url(#g2_1)"/>
<circle cx="491.4" cy="323.5" r="4.7" fill="url(#g2_1)"/>
<circle cx="443.8" cy="429.0" r="4.5" fill="url(#g2_1)"/>
<circle cx="384.4" cy="397.9" r="4.1" fill="url(#g2_1)"/>
<circle cx="510.2" cy="323.5" r="5.0" fill="url(#g2_0)"/>
<circle cx="374.5" cy="381.6" r="4.5" fill="url(#g2_1)"/>
<circle cx="527.5" cy="401.8" r="4.9" fill="url(#g2_0)"/>
<circle cx="459.7" cy="388.4" r="4.9" fill="url(#g2_0)"/>
<circle cx="459.9" cy="407.9" r="4.2" fill="url(#g2_0)"/>
<circle cx="527.5" cy="344.3" r="4.9" fill="url(#g2_0)"/>
<circle cx="501.2" cy="380.3" r="4.3" fill="url(#g2_1)"/>
<circle cx="349.5" cy="323.5" r="4.2" fill="url(#g2_1)"/>
<circle cx="409.2" cy="420.7" r="4.9" fill="url(#g2_0)"/>
<circle cx="357.7" cy="369.6" r="4.3" fill="url(#g2_1)"/>
<circle cx="371.6" cy="348.4" r="4.2" fill="url(#g2_0)"/>
<circle cx="376.4" cy="340.3" r="4.6" fill="url(#g2_0)"/>
<circle cx="509.9" cy="384.3" r="4.8" fill="url(#g2_0)"/>
<circle cx="366.8" cy="323.5" r="4.1" fill="url(#g2_1)"/>
<circle cx="398.1" cy="354.8" r="4.4" fill="url(#g2_1)"/>
<circle cx="432.3" cy="351.4" r="4.6" fill="url(#g2_0)"/>
<circle cx="527.5" cy="411.1" r="4.8" fill="url(#g2_0)"/>
<circle cx="492.7" cy="386.4" r="4.8" fill="url(#g2_0)"/>
<circle cx="378.6" cy="419.9" r="4.2" fill="url(#g2_0)"/>
<circle cx="435.3" cy="395.4" r="4.2" fill="url(#g2_1)"/>
<circle cx="482.4" cy="355.5" r="4.4" fill="url(#g2_1)"/>
<circle cx="357.6" cy="358.9" r="4.5" fill="url(#g2_1)"/>
<circle cx="472.1" cy="339.9" r="4.3" fill="url(#g2_1)"/>
<circle cx="414.8" cy="351.3" r="4.2" fill="url(#g2_0)"/>
<circle cx="451.2" cy="389.3" r="4.5" fill="url(#g2_0)"/>
<circle cx="476.2" cy="398.1" r="4.2" fill="url(#g2_1)"/>
<circle cx="464.6" cy="356.2" r="4.8" fill="url(#g2_1)"/>
<circle cx="440.6" cy="357.5" r="4.2" fill="url(#g2_1)"/>
<circle cx="439.9" cy="403.8" r="4.7" fill="url(#g2_1)"/>
<circle cx="363.2" cy="429.0" r="4.7" fill="url(#g2_1)"/>
<circle cx="429.8" cy="403.6" r="4.4" fill="url(#g2_0)"/>
<circle cx="437.1" cy="378.0" r="4.3" fill="url(#g2_0)"/>
<circle cx="492.3" cy="366.8" r="4.9" fill="url(#g2_1)"/>
<circle cx="399.9" cy="404.4" r="4.6" fill="url(#g2_1)"/>
<circle cx="349.5" cy="412.9" r="4.7" fill="url(#g2_1)"/>
<circle cx="447.7" cy="332.1" r="4.7" fill="url(#g2_0)"/>
<circle cx="373.6" cy="429.0" r="4.7" fill="url(#g2_1)"/>
<circle cx="491.1" cy="429.0" r="4.8" fill="url(#g2_0)"/>
<circle cx="423.4" cy="364.6" r="4.6" fill="url(#g2_1)"/>
<circle cx="404.4" cy="379.6" r="4.2" fill="url(#g2_0)"/>
<circle cx="409.7" cy="387.6" r="4.2" fill="url(#g2_1)"/>
<circle cx="404.3" cy="345.8" r="4.9" fill="url(#g2_1)"/>
<circle cx="399.3" cy="388.0" r="4.2" fill="url(#g2_0)"/>
<circle cx="424.0" cy="429.0" r="4.8" fill="url(#g2_0)"/>
<circle cx="366.4" cy="384.4" r="4.9" fill="url(#g2_0)"/>
<circle cx="443.9" cy="412.2" r="4.3" fill="url(#g2_0)"/>
<circle cx="439.0" cy="420.6" r="4.5" fill="url(#g2_1)"/>
<circle cx="492.4" cy="340.6" r="4.6" fill="url(#g2_1)"/>
<circle cx="527.5" cy="353.8" r="4.9" fill="url(#g2_1)"/>
<circle cx="510.1" cy="403.4" r="4.9" fill="url(#g2_1)"/>
<circle cx="491.6" cy="357.6" r="4.9" fill="url(#g2_1)"/>
<circle cx="383.9" cy="411.2" r="4.8" fill="url(#g2_1)"/>
<circle cx="442.7" cy="323.5" r="4.5" fill="url(#g2_0)"/>
<circle cx="400.2" cy="331.0" r="4.6" fill="url(#g2_1)"/>
<circle cx="393.6" cy="429.0" r="4.6" fill="url(#g2_1)"/>
<circle cx="450.2" cy="404.0" r="4.9" fill="url(#g2_0)"/>
<circle cx="393.6" cy="363.8" r="4.3" fill="url(#g2_1)"/>
<circle cx="461.9" cy="340.7" r="4.8" fill="url(#g2_1)"/>
<circle cx="452.9" cy="412.9" r="4.8" fill="url(#g2_1)"/>
<circle cx="357.8" cy="408.7" r="4.4" fill="url(#g2_1)"/>
<circle cx="425.4" cy="395.1" r="4.5" fill="url(#g2_0)"/>
<circle cx="414.7" cy="379.5" r="4.3" fill="url(#g2_1)"/>
<circle cx="483.9" cy="382.5" r="4.3" fill="url(#g2_1)"/>
<circle cx="353.2" cy="429.0" r="4.3" fill="url(#g2_0)"/>
<circle cx="368.1" cy="393.7" r="4.7" fill="url(#g2_1)"/>
<circle cx="437.4" cy="332.0" r="4.9" fill="url(#g2_0)"/>
<circle cx="416.9" cy="331.9" r="4.3" fill="url(#g2_0)"/>
<circle cx="466.8" cy="383.2" r="4.8" fill="url(#g2_0)"/>
<circle cx="394.7" cy="396.3" r="4.8" fill="url(#g2_0)"/>
<circle cx="377.9" cy="390.4" r="4.8" fill="url(#g2_0)"/>
<circle cx="527.5" cy="420.7" r="4.7" fill="url(#g2_0)"/>
<circle cx="377.5" cy="356.4" r="4.4" fill="url(#g2_0)"/>
<circle cx="364.9" cy="365.0" r="4.5" fill="url(#g2_0)"/>
<circle cx="387.9" cy="355.8" r="4.4" fill="url(#g2_1)"/>
<circle cx="403.6" cy="363.5" r="4.5" fill="url(#g2_1)"/>
<circle cx="429.2" cy="420.6" r="4.5" fill="url(#g2_1)"/>
<circle cx="527.5" cy="333.3" r="4.7" fill="url(#g2_1)"/>
<circle cx="410.0" cy="404.0" r="4.6" fill="url(#g2_0)"/>
<circle cx="474.1" cy="368.4" r="4.2" fill="url(#g2_1)"/>
<circle cx="500.9" cy="359.9" r="4.9" fill="url(#g2_1)"/>
<circle cx="527.5" cy="429.0" r="4.9" fill="url(#g2_1)"/>
<circle cx="358.6" cy="419.4" r="4.4" fill="url(#g2_1)"/>
<circle cx="441.2" cy="347.8" r="4.7" fill="url(#g2_1)"/>
<circle cx="349.5" cy="374.1" r="4.9" fill="url(#g2_1)"/>
<circle cx="446.8" cy="381.3" r="4.6" fill="url(#g2_0)"/>
<circle cx="373.5" cy="365.0" r="4.6" fill="url(#g2_0)"/>
<circle cx="501.3" cy="390.3" r="4.7" fill="url(#g2_0)"/>
<circle cx="527.5" cy="392.4" r="4.7" fill="url(#g2_0)"/>
<circle cx="434.2" cy="412.1" r="4.9" fill="url(#g2_1)"/>
<circle cx="349.5" cy="344.2" r="4.9" fill="url(#g2_0)"/>
<circle cx="358.5" cy="398.6" r="4.7" fill="url(#g2_1)"/>
<circle cx="413.6" cy="323.5" r="4.7" fill="url(#g2_1)"/>
<circle cx="390.5" cy="332.0" r="4.8" fill="url(#g2_0)"/>
<circle cx="466.8" cy="331.9" r="4.3" fill="url(#g2_1)"/>
<circle cx="414.6" cy="412.3" r="4.4" fill="url(#g2_1)"/>
<circle cx="383.5" cy="364.4" r="4.3" fill="url(#g2_1)"/>
<circle cx="483.6" cy="372.9" r="4.3" fill="url(#g2_1)"/>
<circle cx="388.5" cy="372.5" r="4.9" fill="url(#g2_1)"/>
<circle cx="413.9" cy="342.2" r="4.8" fill="url(#g2_1)"/>
<circle cx="501.0" cy="323.5" r="5.0" fill="url(#g2_0)"/>
<circle cx="432.6" cy="341.3" r="4.2" fill="url(#g2_0)"/>
<circle cx="494.6" cy="417.8" r="4.9" fill="url(#g2_0)"/>
<circle cx="432.0" cy="361.1" r="4.3" fill="url(#g2_1)"/>
<circle cx="367.7" cy="374.1" r="4.5" fill="url(#g2_0)"/>
<circle cx="423.0" cy="356.0" r="4.3" fill="url(#g2_1)"/>
<circle cx="519.8" cy="417.1" r="4.6" fill="url(#g2_0)"/>
<circle cx="445.6" cy="396.1" r="4.3" fill="url(#g2_1)"/>
<circle cx="527.5" cy="363.7" r="4.4" fill="url(#g2_1)"/>
<circle cx="349.5" cy="383.9" r="4.9" fill="url(#g2_1)"/>
<circle cx="398.8" cy="371.9" r="4.9" fill="url(#g2_1)"/>
<circle cx="492.5" cy="376.5" r="4.9" fill="url(#g2_1)"/>
<circle cx="475.5" cy="388.0" r="4.7" fill="url(#g2_0)"/>
<circle cx="440.6" cy="387.6" r="4.7" fill="url(#g2_0)"/>
<circle cx="468.0" cy="412.8" r="4.8" fill="url(#g2_0)"/>
<circle cx="508.7" cy="429.0" r="4.6" fill="url(#g2_1)"/>
<circle cx="471.8" cy="323.5" r="4.8" fill="url(#g2_0)"/>
<circle cx="447.2" cy="373.0" r="4.6" fill="url(#g2_1)"/>
<circle cx="452.4" cy="323.5" r="4.4" fill="url(#g2_0)"/>
<circle cx="473.5" cy="358.3" r="4.8" fill="url(#g2_0)"/>
<circle cx="394.3" cy="412.7" r="4.7" fill="url(#g2_0)"/>
<circle cx="467.4" cy="393.5" r="4.2" fill="url(#g2_1)"/>
<circle cx="456.4" cy="379.3" r="4.9" fill="url(#g2_0)"/>
<circle cx="487.0" cy="332.0" r="4.8" fill="url(#g2_0)"/>
<circle cx="424.4" cy="412.1" r="4.8" fill="url(#g2_1)"/>
<circle cx="349.5" cy="393.6" r="4.3" fill="url(#g2_0)"/>
<circle cx="449.2" cy="352.5" r="4.5" fill="url(#g2_0)"/>
<circle cx="510.8" cy="412.8" r="4.2" fill="url(#g2_0)"/>
<circle cx="461.9" cy="323.5" r="4.8" fill="url(#g2_0)"/>
<circle cx="468.2" cy="348.5" r="4.5" fill="url(#g2_0)"/>
<circle cx="404.5" cy="412.6" r="4.5" fill="url(#g2_1)"/>
<circle cx="405.0" cy="323.5" r="4.5" fill="url(#g2_1)"/>
<circle cx="482.2" cy="340.2" r="4.5" fill="url(#g2_0)"/>
<circle cx="358.3" cy="389.1" r="4.4" fill="url(#g2_1)"/>
<circle cx="518.7" cy="397.7" r="4.4" fill="url(#g2_1)"/>
<circle cx="518.7" cy="388.2" r="4.1" fill="url(#g2_0)"/>
<circle cx="527.5" cy="323.5" r="4.4" fill="url(#g2_1)"/>
<circle cx="367.2" cy="356.1" r="4.3" fill="url(#g2_0)"/>
<circle cx="366.8" cy="403.5" r="4.5" fill="url(#g2_0)"/>
<circle cx="423.7" cy="347.0" r="4.3" fill="url(#g2_0)"/>
<circle cx="395.0" cy="323.5" r="4.3" fill="url(#g2_0)"/>
<circle cx="414.0" cy="362.0" r="4.4" fill="url(#g2_0)"/>
<circle cx="468.3" cy="421.4" r="4.2" fill="url(#g2_1)"/>
<circle cx="376.0" cy="323.5" r="4.5" fill="url(#g2_0)"/>
<circle cx="430.9" cy="386.5" r="4.5" fill="url(#g2_0)"/>
<circle cx="459.2" cy="419.4" r="4.7" fill="url(#g2_1)"/>
<circle cx="484.8" cy="402.4" r="4.6" fill="url(#g2_1)"/>
<circle cx="349.5" cy="353.7" r="4.8" fill="url(#g2_1)"/>
<circle cx="509.9" cy="393.9" r="4.9" fill="url(#g2_1)"/>
<circle cx="422.9" cy="338.7" r="4.4" fill="url(#g2_1)"/>
<circle cx="425.5" cy="378.9" r="4.4" fill="url(#g2_0)"/>
<circle cx="456.3" cy="359.6" r="4.5" fill="url(#g2_0)"/>
<circle cx="388.5" cy="420.4" r="4.1" fill="url(#g2_0)"/>
<circle cx="512.9" cy="421.7" r="4.2" fill="url(#g2_0)"/>
<circle cx="374.8" cy="410.5" r="4.3" fill="url(#g2_1)"/>
<circle cx="439.2" cy="367.9" r="4.9" fill="url(#g2_1)"/>
<circle cx="365.9" cy="412.8" r="4.5" fill="url(#g2_1)"/>
<circle cx="453.8" cy="429.0" r="4.2" fill="url(#g2_1)"/>
<circle cx="518.6" cy="369.0" r="4.7" fill="url(#g2_1)"/>
<circle cx="370.6" cy="332.3" r="4.4" fill="url(#g2_1)"/>
<circle cx="456.9" cy="332.6" r="4.5" fill="url(#g2_1)"/>
<circle cx="518.9" cy="407.2" r="4.8" fill="url(#g2_1)"/>
<circle cx="385.5" cy="323.5" r="4.8" fill="url(#g2_1)"/>
<circle cx="420.3" cy="387.1" r="4.6" fill="url(#g2_0)"/>
<circle cx="477.0" cy="331.8" r="4.5" fill="url(#g2_0)"/>
<circle cx="493.0" cy="396.6" r="4.7" fill="url(#g2_1)"/>
<circle cx="420.0" cy="403.6" r="4.3" fill="url(#g2_1)"/>
<circle cx="462.9" cy="429.0" r="4.2" fill="url(#g2_0)"/>
<circle cx="482.8" cy="363.9" r="4.2" fill="url(#g2_1)"/>
<circle cx="409.2" cy="371.0" r="4.7" fill="url(#g2_0)"/>
<circle cx="465.2" cy="365.0" r="4.6" fill="url(#g2_0)"/>
<circle cx="457.8" cy="397.9" r="4.9" fill="url(#g2_1)"/>
<circle cx="476.4" cy="408.3" r="4.9" fill="url(#g2_1)"/>
<circle cx="442.4" cy="339.5" r="4.1" fill="url(#g2_0)"/>
<circle cx="407.1" cy="354.9" r="4.9" fill="url(#g2_0)"/>
</g></g>
<text x="415.6" y="323" font-size="11.5" fill="#1d2352" stroke="#1d2352" stroke-width="0.3" font-family="'Liberation Serif', serif" font-style="italic">f</text>
<text x="420.5" y="323" font-size="7.5" fill="#1d2352" stroke="#1d2352" stroke-width="0.3" font-family="'Liberation Serif', serif" font-style="italic">r</text>
<text x="425.8" y="323" font-size="10.5" fill="#1d2352" stroke="#1d2352" stroke-width="0.4" textLength="31.9" lengthAdjust="spacingAndGlyphs">= 0.96</text>
<text x="491" y="411.4" font-size="7.8" fill="#000" stroke="#000" stroke-width="0.25" textLength="26.7" lengthAdjust="spacingAndGlyphs">200 μm</text>
<rect x="492.8" y="414.2" width="23.2" height="3.6" fill="#000"/>
<g clip-path="url(#c3)">
<rect x="178" y="456" width="167.0" height="94.0" fill="#a5a8d9"/>
<g filter="url(#blur)" stroke="#7374bb" stroke-width="1.0">
<circle cx="339.5" cy="449.9" r="4.7" fill="url(#g3_1)"/>
<circle cx="268.4" cy="467.2" r="4.7" fill="url(#g3_0)"/>
<circle cx="351.1" cy="538.7" r="5.4" fill="url(#g3_0)"/>
<circle cx="178.5" cy="460.4" r="5.1" fill="url(#g3_1)"/>
<circle cx="277.6" cy="473.7" r="5.3" fill="url(#g3_1)"/>
<circle cx="234.4" cy="556.1" r="5.4" fill="url(#g3_1)"/>
<circle cx="312.9" cy="485.6" r="4.8" fill="url(#g3_1)"/>
<circle cx="189.6" cy="521.9" r="5.4" fill="url(#g3_1)"/>
<circle cx="324.3" cy="500.4" r="5.1" fill="url(#g3_1)"/>
<circle cx="257.6" cy="491.8" r="4.8" fill="url(#g3_1)"/>
<circle cx="320.5" cy="548.4" r="5.5" fill="url(#g3_1)"/>
<circle cx="239.5" cy="491.5" r="5.2" fill="url(#g3_1)"/>
<circle cx="311.1" cy="493.7" r="5.1" fill="url(#g3_1)"/>
<circle cx="351.1" cy="519.3" r="4.9" fill="url(#g3_1)"/>
<circle cx="222.5" cy="519.5" r="4.9" fill="url(#g3_0)"/>
<circle cx="351.1" cy="449.9" r="5.0" fill="url(#g3_1)"/>
<circle cx="333.9" cy="459.3" r="5.2" fill="url(#g3_1)"/>
<circle cx="196.6" cy="472.2" r="5.2" fill="url(#g3_0)"/>
<circle cx="276.7" cy="482.9" r="4.8" fill="url(#g3_1)"/>
<circle cx="289.9" cy="531.6" r="4.9" fill="url(#g3_1)"/>
<circle cx="342.2" cy="524.4" r="4.8" fill="url(#g3_1)"/>
<circle cx="275.0" cy="556.1" r="4.6" fill="url(#g3_0)"/>
<circle cx="189.8" cy="490.2" r="5.1" fill="url(#g3_0)"/>
<circle cx="248.5" cy="495.0" r="5.4" fill="url(#g3_1)"/>
<circle cx="241.2" cy="459.5" r="4.6" fill="url(#g3_0)"/>
<circle cx="249.3" cy="547.3" r="5.5" fill="url(#g3_1)"/>
<circle cx="219.0" cy="546.9" r="5.5" fill="url(#g3_1)"/>
<circle cx="193.8" cy="538.7" r="5.4" fill="url(#g3_0)"/>
<circle cx="259.6" cy="547.3" r="4.8" fill="url(#g3_1)"/>
<circle cx="279.2" cy="508.5" r="4.8" fill="url(#g3_0)"/>
<circle cx="334.6" cy="538.4" r="4.6" fill="url(#g3_0)"/>
<circle cx="267.8" cy="476.7" r="4.9" fill="url(#g3_1)"/>
<circle cx="207.7" cy="528.2" r="5.1" fill="url(#g3_1)"/>
<circle cx="333.5" cy="528.6" r="5.0" fill="url(#g3_0)"/>
<circle cx="251.7" cy="519.1" r="4.6" fill="url(#g3_0)"/>
<circle cx="279.9" cy="547.4" r="5.5" fill="url(#g3_0)"/>
<circle cx="249.5" cy="528.9" r="5.1" fill="url(#g3_1)"/>
<circle cx="205.2" cy="468.1" r="4.7" fill="url(#g3_1)"/>
<circle cx="287.7" cy="449.9" r="5.0" fill="url(#g3_0)"/>
<circle cx="302.2" cy="490.7" r="4.8" fill="url(#g3_1)"/>
<circle cx="198.0" cy="460.3" r="4.8" fill="url(#g3_1)"/>
<circle cx="239.3" cy="546.9" r="5.4" fill="url(#g3_0)"/>
<circle cx="227.0" cy="510.7" r="4.6" fill="url(#g3_1)"/>
<circle cx="188.4" cy="531.6" r="5.1" fill="url(#g3_0)"/>
<circle cx="193.5" cy="556.1" r="4.8" fill="url(#g3_1)"/>
<circle cx="342.7" cy="534.5" r="5.4" fill="url(#g3_0)"/>
<circle cx="324.9" cy="533.4" r="5.0" fill="url(#g3_0)"/>
<circle cx="237.8" cy="511.3" r="4.7" fill="url(#g3_0)"/>
<circle cx="296.7" cy="523.9" r="5.1" fill="url(#g3_0)"/>
<circle cx="178.6" cy="548.4" r="5.2" fill="url(#g3_1)"/>
<circle cx="341.5" cy="485.2" r="5.1" fill="url(#g3_1)"/>
<circle cx="259.6" cy="531.4" r="5.0" fill="url(#g3_1)"/>
<circle cx="305.2" cy="556.1" r="5.5" fill="url(#g3_0)"/>
<circle cx="214.5" cy="465.5" r="5.4" fill="url(#g3_0)"/>
<circle cx="230.3" cy="458.0" r="4.8" fill="url(#g3_0)"/>
<circle cx="221.8" cy="501.2" r="5.2" fill="url(#g3_1)"/>
<circle cx="351.1" cy="547.7" r="5.3" fill="url(#g3_1)"/>
<circle cx="242.5" cy="502.0" r="4.6" fill="url(#g3_0)"/>
<circle cx="342.8" cy="556.1" r="4.7" fill="url(#g3_1)"/>
<circle cx="331.6" cy="490.2" r="5.1" fill="url(#g3_0)"/>
<circle cx="232.7" cy="503.0" r="5.1" fill="url(#g3_1)"/>
<circle cx="214.3" cy="449.9" r="5.0" fill="url(#g3_0)"/>
<circle cx="321.1" cy="492.4" r="5.1" fill="url(#g3_1)"/>
<circle cx="183.1" cy="556.1" r="4.8" fill="url(#g3_0)"/>
<circle cx="230.1" cy="494.8" r="4.7" fill="url(#g3_0)"/>
<circle cx="323.7" cy="524.7" r="4.9" fill="url(#g3_0)"/>
<circle cx="332.1" cy="548.1" r="5.1" fill="url(#g3_1)"/>
<circle cx="203.3" cy="449.9" r="5.5" fill="url(#g3_1)"/>
<circle cx="180.2" cy="527.2" r="5.0" fill="url(#g3_1)"/>
<circle cx="307.6" cy="464.9" r="4.7" fill="url(#g3_1)"/>
<circle cx="283.3" cy="498.8" r="5.0" fill="url(#g3_1)"/>
<circle cx="198.9" cy="547.3" r="5.4" fill="url(#g3_0)"/>
<circle cx="258.4" cy="481.2" r="5.4" fill="url(#g3_1)"/>
<circle cx="171.9" cy="543.1" r="5.3" fill="url(#g3_0)"/>
<circle cx="294.2" cy="485.7" r="4.7" fill="url(#g3_0)"/>
<circle cx="259.4" cy="523.2" r="5.4" fill="url(#g3_1)"/>
<circle cx="286.6" cy="523.0" r="5.4" fill="url(#g3_0)"/>
<circle cx="286.2" cy="478.9" r="5.1" fill="url(#g3_1)"/>
<circle cx="228.4" cy="528.8" r="5.1" fill="url(#g3_0)"/>
<circle cx="251.5" cy="457.6" r="5.0" fill="url(#g3_1)"/>
<circle cx="231.9" cy="475.5" r="5.3" fill="url(#g3_0)"/>
<circle cx="265.1" cy="538.7" r="5.1" fill="url(#g3_1)"/>
<circle cx="266.1" cy="495.2" r="5.4" fill="url(#g3_1)"/>
<circle cx="271.7" cy="457.9" r="5.1" fill="url(#g3_1)"/>
<circle cx="171.9" cy="521.9" r="5.0" fill="url(#g3_0)"/>
<circle cx="203.9" cy="556.1" r="5.1" fill="url(#g3_1)"/>
<circle cx="171.9" cy="451.4" r="4.7" fill="url(#g3_0)"/>
<circle cx="229.2" cy="547.0" r="5.2" fill="url(#g3_1)"/>
<circle cx="256.8" cy="449.9" r="4.9" fill="url(#g3_1)"/>
<circle cx="181.4" cy="538.3" r="5.4" fill="url(#g3_0)"/>
<circle cx="285.0" cy="514.4" r="5.4" fill="url(#g3_0)"/>
<circle cx="249.9" cy="475.9" r="4.9" fill="url(#g3_0)"/>
<circle cx="250.2" cy="466.1" r="4.6" fill="url(#g3_0)"/>
<circle cx="275.7" cy="492.1" r="5.3" fill="url(#g3_0)"/>
<circle cx="351.1" cy="489.5" r="5.3" fill="url(#g3_0)"/>
<circle cx="273.4" cy="501.5" r="5.1" fill="url(#g3_1)"/>
<circle cx="180.8" cy="495.1" r="5.5" fill="url(#g3_0)"/>
<circle cx="188.2" cy="457.8" r="5.5" fill="url(#g3_0)"/>
<circle cx="297.7" cy="466.7" r="5.0" fill="url(#g3_0)"/>
<circle cx="220.1" cy="458.4" r="5.4" fill="url(#g3_1)"/>
<circle cx="299.8" cy="532.3" r="5.2" fill="url(#g3_0)"/>
<circle cx="261.3" cy="459.8" r="5.2" fill="url(#g3_1)"/>
<circle cx="232.7" cy="519.9" r="5.3" fill="url(#g3_1)"/>
<circle cx="292.4" cy="458.9" r="5.0" fill="url(#g3_1)"/>
<circle cx="198.0" cy="528.7" r="4.9" fill="url(#g3_1)"/>
<circle cx="198.8" cy="496.7" r="4.6" fill="url(#g3_0)"/>
<circle cx="216.6" cy="509.9" r="5.0" fill="url(#g3_1)"/>
<circle cx="238.8" cy="528.9" r="4.9" fill="url(#g3_0)"/>
<circle cx="332.9" cy="480.3" r="4.7" fill="url(#g3_1)"/>
<circle cx="314.1" cy="519.3" r="4.9" fill="url(#g3_0)"/>
<circle cx="306.7" cy="537.8" r="5.0" fill="url(#g3_1)"/>
<circle cx="279.5" cy="529.7" r="5.3" fill="url(#g3_0)"/>
<circle cx="171.9" cy="511.1" r="4.7" fill="url(#g3_0)"/>
<circle cx="212.6" cy="519.9" r="4.7" fill="url(#g3_1)"/>
<circle cx="329.5" cy="449.9" r="5.3" fill="url(#g3_0)"/>
<circle cx="224.3" cy="556.1" r="4.9" fill="url(#g3_0)"/>
<circle cx="267.0" cy="486.1" r="5.4" fill="url(#g3_1)"/>
<circle cx="316.3" cy="539.2" r="5.2" fill="url(#g3_0)"/>
<circle cx="225.0" cy="449.9" r="5.2" fill="url(#g3_0)"/>
<circle cx="304.1" cy="481.7" r="5.3" fill="url(#g3_1)"/>
<circle cx="269.8" cy="510.9" r="5.3" fill="url(#g3_0)"/>
<circle cx="258.9" cy="512.3" r="4.7" fill="url(#g3_1)"/>
<circle cx="264.8" cy="556.1" r="4.7" fill="url(#g3_0)"/>
<circle cx="249.0" cy="485.7" r="5.4" fill="url(#g3_1)"/>
<circle cx="180.1" cy="472.9" r="4.9" fill="url(#g3_1)"/>
<circle cx="328.0" cy="508.7" r="4.9" fill="url(#g3_1)"/>
<circle cx="351.1" cy="470.3" r="4.8" fill="url(#g3_0)"/>
<circle cx="310.5" cy="547.2" r="5.3" fill="url(#g3_0)"/>
<circle cx="223.7" cy="468.8" r="5.4" fill="url(#g3_0)"/>
<circle cx="277.2" cy="449.9" r="5.1" fill="url(#g3_1)"/>
<circle cx="298.9" cy="507.3" r="5.1" fill="url(#g3_1)"/>
<circle cx="171.9" cy="467.4" r="5.2" fill="url(#g3_1)"/>
<circle cx="300.9" cy="547.2" r="4.7" fill="url(#g3_0)"/>
<circle cx="182.1" cy="449.9" r="5.2" fill="url(#g3_1)"/>
<circle cx="341.8" cy="494.2" r="5.2" fill="url(#g3_1)"/>
<circle cx="208.0" cy="502.8" r="4.6" fill="url(#g3_0)"/>
<circle cx="351.1" cy="499.0" r="5.4" fill="url(#g3_1)"/>
<circle cx="193.3" cy="449.9" r="5.0" fill="url(#g3_1)"/>
<circle cx="263.2" cy="503.7" r="4.7" fill="url(#g3_0)"/>
<circle cx="326.0" cy="465.7" r="5.4" fill="url(#g3_0)"/>
<circle cx="343.5" cy="456.7" r="5.1" fill="url(#g3_1)"/>
<circle cx="285.1" cy="556.1" r="4.8" fill="url(#g3_0)"/>
<circle cx="324.4" cy="474.7" r="5.1" fill="url(#g3_0)"/>
<circle cx="235.9" cy="449.9" r="5.2" fill="url(#g3_1)"/>
<circle cx="297.7" cy="449.9" r="5.4" fill="url(#g3_1)"/>
<circle cx="223.8" cy="537.9" r="5.5" fill="url(#g3_0)"/>
<circle cx="325.8" cy="541.8" r="4.8" fill="url(#g3_1)"/>
<circle cx="306.9" cy="526.6" r="4.6" fill="url(#g3_0)"/>
<circle cx="314.6" cy="477.0" r="4.8" fill="url(#g3_0)"/>
<circle cx="171.9" cy="500.4" r="5.3" fill="url(#g3_1)"/>
<circle cx="333.2" cy="518.9" r="5.2" fill="url(#g3_1)"/>
<circle cx="295.6" cy="475.8" r="5.0" fill="url(#g3_0)"/>
<circle cx="218.3" cy="528.8" r="5.4" fill="url(#g3_1)"/>
<circle cx="274.7" cy="538.2" r="4.8" fill="url(#g3_0)"/>
<circle cx="303.9" cy="500.3" r="5.0" fill="url(#g3_0)"/>
<circle cx="276.5" cy="519.7" r="5.0" fill="url(#g3_1)"/>
<circle cx="318.8" cy="449.9" r="4.8" fill="url(#g3_1)"/>
<circle cx="240.5" cy="480.9" r="5.4" fill="url(#g3_1)"/>
<circle cx="214.2" cy="474.6" r="5.2" fill="url(#g3_1)"/>
<circle cx="231.2" cy="485.2" r="4.7" fill="url(#g3_1)"/>
<circle cx="214.1" cy="556.1" r="4.9" fill="url(#g3_0)"/>
<circle cx="244.5" cy="556.1" r="4.9" fill="url(#g3_0)"/>
<circle cx="302.6" cy="457.6" r="5.2" fill="url(#g3_1)"/>
<circle cx="318.2" cy="509.6" r="5.4" fill="url(#g3_1)"/>
<circle cx="287.5" cy="468.5" r="5.2" fill="url(#g3_0)"/>
<circle cx="308.8" cy="509.5" r="5.5" fill="url(#g3_0)"/>
<circle cx="351.1" cy="556.1" r="5.1" fill="url(#g3_0)"/>
<circle cx="282.8" cy="458.2" r="5.5" fill="url(#g3_1)"/>
<circle cx="180.7" cy="484.3" r="5.1" fill="url(#g3_0)"/>
<circle cx="285.4" cy="489.2" r="4.7" fill="url(#g3_0)"/>
<circle cx="171.9" cy="532.8" r="5.3" fill="url(#g3_0)"/>
<circle cx="284.7" cy="539.1" r="4.8" fill="url(#g3_1)"/>
<circle cx="351.1" cy="460.5" r="5.3" fill="url(#g3_1)"/>
<circle cx="241.5" cy="470.5" r="4.7" fill="url(#g3_0)"/>
<circle cx="351.1" cy="480.1" r="4.6" fill="url(#g3_0)"/>
<circle cx="171.9" cy="556.1" r="5.5" fill="url(#g3_0)"/>
<circle cx="351.1" cy="528.9" r="4.8" fill="url(#g3_1)"/>
<circle cx="189.9" cy="511.8" r="4.8" fill="url(#g3_0)"/>
<circle cx="314.9" cy="556.1" r="5.1" fill="url(#g3_1)"/>
<circle cx="204.9" cy="489.5" r="4.9" fill="url(#g3_1)"/>
<circle cx="234.0" cy="537.9" r="5.3" fill="url(#g3_0)"/>
<circle cx="188.1" cy="467.1" r="4.9" fill="url(#g3_1)"/>
<circle cx="171.9" cy="478.6" r="5.1" fill="url(#g3_0)"/>
<circle cx="295.3" cy="556.1" r="5.2" fill="url(#g3_1)"/>
<circle cx="295.4" cy="540.0" r="5.2" fill="url(#g3_0)"/>
<circle cx="180.7" cy="516.5" r="4.9" fill="url(#g3_0)"/>
<circle cx="278.0" cy="465.2" r="4.7" fill="url(#g3_1)"/>
<circle cx="205.1" cy="478.5" r="5.3" fill="url(#g3_1)"/>
<circle cx="325.0" cy="556.1" r="5.5" fill="url(#g3_1)"/>
<circle cx="189.7" cy="501.0" r="5.5" fill="url(#g3_1)"/>
<circle cx="266.6" cy="449.9" r="4.6" fill="url(#g3_0)"/>
<circle cx="333.8" cy="470.3" r="5.3" fill="url(#g3_1)"/>
<circle cx="267.0" cy="519.3" r="4.9" fill="url(#g3_0)"/>
<circle cx="269.9" cy="547.4" r="5.0" fill="url(#g3_0)"/>
<circle cx="314.5" cy="501.3" r="5.2" fill="url(#g3_1)"/>
<circle cx="305.9" cy="473.2" r="5.3" fill="url(#g3_0)"/>
<circle cx="315.1" cy="529.9" r="4.8" fill="url(#g3_0)"/>
<circle cx="196.9" cy="483.5" r="4.7" fill="url(#g3_1)"/>
<circle cx="342.2" cy="475.7" r="5.3" fill="url(#g3_1)"/>
<circle cx="248.1" cy="510.4" r="4.9" fill="url(#g3_1)"/>
<circle cx="333.7" cy="499.6" r="4.9" fill="url(#g3_0)"/>
<circle cx="290.2" cy="547.8" r="4.9" fill="url(#g3_0)"/>
<circle cx="293.8" cy="496.5" r="5.4" fill="url(#g3_0)"/>
<circle cx="342.9" cy="514.8" r="5.1" fill="url(#g3_0)"/>
<circle cx="171.9" cy="489.6" r="5.2" fill="url(#g3_0)"/>
<circle cx="323.9" cy="516.7" r="4.9" fill="url(#g3_0)"/>
<circle cx="209.0" cy="546.9" r="4.6" fill="url(#g3_0)"/>
<circle cx="313.7" cy="458.0" r="4.8" fill="url(#g3_0)"/>
<circle cx="188.4" cy="546.8" r="5.4" fill="url(#g3_1)"/>
<circle cx="244.2" cy="537.9" r="5.0" fill="url(#g3_1)"/>
<circle cx="188.6" cy="478.4" r="5.3" fill="url(#g3_0)"/>
<circle cx="308.4" cy="449.9" r="4.9" fill="url(#g3_1)"/>
<circle cx="213.3" cy="495.3" r="4.9" fill="url(#g3_1)"/>
<circle cx="242.8" cy="520.1" r="5.0" fill="url(#g3_0)"/>
<circle cx="316.7" cy="467.6" r="5.3" fill="url(#g3_0)"/>
<circle cx="233.2" cy="466.1" r="5.4" fill="url(#g3_0)"/>
<circle cx="323.2" cy="483.7" r="4.8" fill="url(#g3_0)"/>
<circle cx="254.6" cy="556.1" r="4.6" fill="url(#g3_0)"/>
<circle cx="343.1" cy="503.9" r="5.1" fill="url(#g3_1)"/>
<circle cx="304.0" cy="517.1" r="5.1" fill="url(#g3_1)"/>
<circle cx="351.1" cy="509.2" r="5.2" fill="url(#g3_0)"/>
<circle cx="294.1" cy="515.1" r="4.6" fill="url(#g3_1)"/>
<circle cx="221.8" cy="490.1" r="5.4" fill="url(#g3_1)"/>
<circle cx="253.9" cy="502.4" r="5.2" fill="url(#g3_0)"/>
<circle cx="342.2" cy="465.9" r="4.7" fill="url(#g3_0)"/>
<circle cx="334.3" cy="556.1" r="4.6" fill="url(#g3_0)"/>
<circle cx="208.5" cy="458.1" r="5.1" fill="url(#g3_1)"/>
<circle cx="203.7" cy="537.8" r="5.1" fill="url(#g3_0)"/>
<circle cx="206.8" cy="512.7" r="5.1" fill="url(#g3_0)"/>
<circle cx="269.6" cy="528.8" r="5.0" fill="url(#g3_1)"/>
<circle cx="198.4" cy="507.2" r="5.1" fill="url(#g3_0)"/>
<circle cx="289.6" cy="505.6" r="5.1" fill="url(#g3_0)"/>
<circle cx="213.5" cy="484.7" r="5.1" fill="url(#g3_1)"/>
<circle cx="323.5" cy="457.8" r="4.7" fill="url(#g3_0)"/>
<circle cx="199.2" cy="518.4" r="4.9" fill="url(#g3_1)"/>
<circle cx="336.1" cy="509.4" r="5.1" fill="url(#g3_1)"/>
<circle cx="222.7" cy="479.6" r="5.4" fill="url(#g3_0)"/>
</g></g>
<text x="240.9" y="451.7" font-size="11.5" fill="#1d2352" stroke="#1d2352" stroke-width="0.3" font-family="'Liberation Serif', serif" font-style="italic">f</text>
<text x="245.79999999999998" y="451.7" font-size="7.5" fill="#1d2352" stroke="#1d2352" stroke-width="0.3" font-family="'Liberation Serif', serif" font-style="italic">r</text>
<text x="251.1" y="451.7" font-size="10.5" fill="#1d2352" stroke="#1d2352" stroke-width="0.4" textLength="31.8" lengthAdjust="spacingAndGlyphs">= 1.02</text>
<text x="313.8" y="538.4" font-size="7.8" fill="#000" stroke="#000" stroke-width="0.25" textLength="26.5" lengthAdjust="spacingAndGlyphs">200 μm</text>
<rect x="315.3" y="541.6" width="23.7" height="3.5" fill="#000"/>
<g clip-path="url(#c4)">
<rect x="2" y="583.4" width="168.0" height="94.6" fill="#a5a8d9"/>
<g filter="url(#blur)" stroke="#7374bb" stroke-width="1.0">
<circle cx="133.5" cy="675.3" r="5.2" fill="url(#g4_0)"/>
<circle cx="145.6" cy="577.4" r="5.2" fill="url(#g4_0)"/>
<circle cx="85.8" cy="632.3" r="5.3" fill="url(#g4_0)"/>
<circle cx="57.1" cy="594.0" r="5.3" fill="url(#g4_1)"/>
<circle cx="5.0" cy="627.7" r="5.0" fill="url(#g4_0)"/>
<circle cx="66.2" cy="657.4" r="4.9" fill="url(#g4_0)"/>
<circle cx="75.8" cy="657.9" r="5.2" fill="url(#g4_0)"/>
<circle cx="4.4" cy="593.4" r="4.6" fill="url(#g4_1)"/>
<circle cx="11.5" cy="618.7" r="4.5" fill="url(#g4_0)"/>
<circle cx="176.0" cy="621.2" r="4.7" fill="url(#g4_0)"/>
<circle cx="115.3" cy="612.0" r="4.8" fill="url(#g4_0)"/>
<circle cx="39.5" cy="659.7" r="5.1" fill="url(#g4_0)"/>
<circle cx="85.4" cy="658.5" r="5.4" fill="url(#g4_0)"/>
<circle cx="176.0" cy="612.2" r="5.3" fill="url(#g4_1)"/>
<circle cx="167.6" cy="625.3" r="4.9" fill="url(#g4_0)"/>
<circle cx="165.7" cy="577.4" r="4.8" fill="url(#g4_0)"/>
<circle cx="72.4" cy="622.1" r="5.1" fill="url(#g4_0)"/>
<circle cx="98.7" cy="684.0" r="5.2" fill="url(#g4_1)"/>
<circle cx="122.4" cy="630.2" r="4.7" fill="url(#g4_1)"/>
<circle cx="4.7" cy="648.5" r="4.6" fill="url(#g4_0)"/>
<circle cx="102.7" cy="651.9" r="4.8" fill="url(#g4_1)"/>
<circle cx="149.3" cy="666.0" r="4.8" fill="url(#g4_0)"/>
<circle cx="6.5" cy="609.9" r="5.1" fill="url(#g4_0)"/>
<circle cx="120.7" cy="603.6" r="4.7" fill="url(#g4_1)"/>
<circle cx="143.7" cy="675.0" r="4.8" fill="url(#g4_1)"/>
<circle cx="39.7" cy="638.1" r="4.6" fill="url(#g4_1)"/>
<circle cx="148.1" cy="684.0" r="4.5" fill="url(#g4_0)"/>
<circle cx="159.5" cy="586.7" r="5.0" fill="url(#g4_1)"/>
<circle cx="-4.0" cy="663.5" r="4.8" fill="url(#g4_0)"/>
<circle cx="128.9" cy="621.8" r="4.8" fill="url(#g4_0)"/>
<circle cx="-4.0" cy="632.9" r="5.1" fill="url(#g4_1)"/>
<circle cx="99.1" cy="668.0" r="4.6" fill="url(#g4_0)"/>
<circle cx="71.2" cy="586.4" r="5.0" fill="url(#g4_1)"/>
<circle cx="30.1" cy="635.9" r="5.2" fill="url(#g4_1)"/>
<circle cx="53.2" cy="601.1" r="4.9" fill="url(#g4_1)"/>
<circle cx="144.9" cy="614.1" r="5.4" fill="url(#g4_0)"/>
<circle cx="49.4" cy="665.1" r="4.8" fill="url(#g4_0)"/>
<circle cx="15.6" cy="626.4" r="5.2" fill="url(#g4_0)"/>
<circle cx="123.5" cy="657.0" r="5.2" fill="url(#g4_0)"/>
<circle cx="75.9" cy="577.4" r="4.8" fill="url(#g4_0)"/>
<circle cx="138.4" cy="684.0" r="4.8" fill="url(#g4_1)"/>
<circle cx="29.2" cy="684.0" r="5.1" fill="url(#g4_0)"/>
<circle cx="47.8" cy="655.0" r="4.9" fill="url(#g4_1)"/>
<circle cx="145.4" cy="595.6" r="4.8" fill="url(#g4_1)"/>
<circle cx="89.3" cy="641.6" r="4.9" fill="url(#g4_0)"/>
<circle cx="95.7" cy="594.4" r="5.2" fill="url(#g4_0)"/>
<circle cx="45.3" cy="614.0" r="4.9" fill="url(#g4_1)"/>
<circle cx="-4.0" cy="577.4" r="4.9" fill="url(#g4_1)"/>
<circle cx="168.0" cy="587.0" r="5.2" fill="url(#g4_1)"/>
<circle cx="14.8" cy="593.3" r="5.1" fill="url(#g4_1)"/>
<circle cx="155.4" cy="595.9" r="5.1" fill="url(#g4_1)"/>
<circle cx="63.7" cy="675.1" r="4.7" fill="url(#g4_1)"/>
<circle cx="168.1" cy="605.7" r="4.8" fill="url(#g4_0)"/>
<circle cx="69.4" cy="666.4" r="4.5" fill="url(#g4_1)"/>
<circle cx="176.0" cy="577.4" r="4.7" fill="url(#g4_1)"/>
<circle cx="105.8" cy="577.4" r="5.1" fill="url(#g4_1)"/>
<circle cx="41.0" cy="585.7" r="5.1" fill="url(#g4_1)"/>
<circle cx="128.5" cy="684.0" r="5.3" fill="url(#g4_1)"/>
<circle cx="118.7" cy="665.6" r="5.4" fill="url(#g4_0)"/>
<circle cx="125.8" cy="577.4" r="4.6" fill="url(#g4_1)"/>
<circle cx="83.5" cy="675.6" r="4.9" fill="url(#g4_0)"/>
<circle cx="29.8" cy="602.0" r="5.2" fill="url(#g4_0)"/>
<circle cx="101.1" cy="602.3" r="5.3" fill="url(#g4_1)"/>
<circle cx="13.2" cy="654.0" r="5.0" fill="url(#g4_1)"/>
<circle cx="130.5" cy="604.1" r="4.5" fill="url(#g4_0)"/>
<circle cx="114.1" cy="675.3" r="5.1" fill="url(#g4_0)"/>
<circle cx="62.7" cy="622.3" r="5.1" fill="url(#g4_0)"/>
<circle cx="141.7" cy="631.2" r="5.4" fill="url(#g4_0)"/>
<circle cx="31.7" cy="645.3" r="4.6" fill="url(#g4_1)"/>
<circle cx="62.3" cy="604.1" r="4.9" fill="url(#g4_0)"/>
<circle cx="142.5" cy="659.0" r="4.8" fill="url(#g4_0)"/>
<circle cx="68.5" cy="684.0" r="4.7" fill="url(#g4_1)"/>
<circle cx="115.9" cy="577.4" r="4.8" fill="url(#g4_1)"/>
<circle cx="165.5" cy="675.7" r="5.1" fill="url(#g4_1)"/>
<circle cx="176.0" cy="651.6" r="5.0" fill="url(#g4_1)"/>
<circle cx="138.9" cy="622.3" r="5.0" fill="url(#g4_1)"/>
<circle cx="143.7" cy="640.5" r="4.8" fill="url(#g4_1)"/>
<circle cx="26.2" cy="610.4" r="4.9" fill="url(#g4_1)"/>
<circle cx="134.9" cy="613.3" r="4.6" fill="url(#g4_1)"/>
<circle cx="150.9" cy="634.5" r="5.4" fill="url(#g4_0)"/>
<circle cx="66.2" cy="577.4" r="4.8" fill="url(#g4_0)"/>
<circle cx="99.4" cy="643.2" r="4.8" fill="url(#g4_0)"/>
<circle cx="80.9" cy="586.2" r="5.3" fill="url(#g4_1)"/>
<circle cx="176.0" cy="602.7" r="5.4" fill="url(#g4_1)"/>
<circle cx="54.0" cy="674.6" r="5.4" fill="url(#g4_1)"/>
<circle cx="73.0" cy="648.9" r="5.3" fill="url(#g4_0)"/>
<circle cx="-4.0" cy="612.0" r="4.7" fill="url(#g4_1)"/>
<circle cx="82.6" cy="649.6" r="4.9" fill="url(#g4_1)"/>
<circle cx="118.7" cy="684.0" r="4.8" fill="url(#g4_1)"/>
<circle cx="176.0" cy="684.0" r="4.5" fill="url(#g4_1)"/>
<circle cx="158.8" cy="669.1" r="4.5" fill="url(#g4_0)"/>
<circle cx="53.5" cy="610.2" r="4.5" fill="url(#g4_1)"/>
<circle cx="176.0" cy="641.2" r="4.9" fill="url(#g4_0)"/>
<circle cx="22.2" cy="650.5" r="4.7" fill="url(#g4_0)"/>
<circle cx="150.2" cy="586.6" r="4.8" fill="url(#g4_1)"/>
<circle cx="21.8" cy="659.6" r="4.9" fill="url(#g4_0)"/>
<circle cx="13.4" cy="644.0" r="4.8" fill="url(#g4_1)"/>
<circle cx="150.7" cy="645.6" r="5.2" fill="url(#g4_0)"/>
<circle cx="155.6" cy="577.4" r="4.8" fill="url(#g4_0)"/>
<circle cx="25.1" cy="593.5" r="4.7" fill="url(#g4_1)"/>
<circle cx="108.8" cy="684.0" r="4.6" fill="url(#g4_0)"/>
<circle cx="87.9" cy="614.2" r="4.9" fill="url(#g4_1)"/>
<circle cx="110.9" cy="585.9" r="5.3" fill="url(#g4_1)"/>
<circle cx="16.1" cy="610.1" r="5.3" fill="url(#g4_0)"/>
<circle cx="159.0" cy="640.4" r="4.9" fill="url(#g4_0)"/>
<circle cx="51.2" cy="586.0" r="4.5" fill="url(#g4_1)"/>
<circle cx="78.1" cy="613.4" r="5.1" fill="url(#g4_1)"/>
<circle cx="-0.3" cy="603.4" r="4.6" fill="url(#g4_1)"/>
<circle cx="-4.0" cy="586.6" r="5.3" fill="url(#g4_1)"/>
<circle cx="30.3" cy="665.9" r="4.9" fill="url(#g4_0)"/>
<circle cx="49.1" cy="684.0" r="4.7" fill="url(#g4_0)"/>
<circle cx="158.1" cy="684.0" r="5.1" fill="url(#g4_0)"/>
<circle cx="158.7" cy="621.3" r="4.9" fill="url(#g4_0)"/>
<circle cx="85.8" cy="577.4" r="5.1" fill="url(#g4_0)"/>
<circle cx="82.2" cy="622.7" r="4.6" fill="url(#g4_0)"/>
<circle cx="116.0" cy="638.4" r="4.6" fill="url(#g4_1)"/>
<circle cx="154.6" cy="613.7" r="4.9" fill="url(#g4_0)"/>
<circle cx="56.8" cy="656.8" r="4.9" fill="url(#g4_0)"/>
<circle cx="133.4" cy="657.6" r="4.7" fill="url(#g4_0)"/>
<circle cx="73.6" cy="675.3" r="5.2" fill="url(#g4_1)"/>
<circle cx="102.4" cy="627.5" r="5.0" fill="url(#g4_1)"/>
<circle cx="140.2" cy="604.7" r="4.6" fill="url(#g4_1)"/>
<circle cx="93.7" cy="675.9" r="5.1" fill="url(#g4_1)"/>
<circle cx="123.7" cy="674.9" r="5.3" fill="url(#g4_1)"/>
<circle cx="120.9" cy="586.1" r="4.6" fill="url(#g4_1)"/>
<circle cx="-4.0" cy="596.0" r="5.1" fill="url(#g4_1)"/>
<circle cx="4.4" cy="658.5" r="5.0" fill="url(#g4_0)"/>
<circle cx="20.9" cy="668.4" r="5.0" fill="url(#g4_1)"/>
<circle cx="19.0" cy="684.0" r="4.8" fill="url(#g4_0)"/>
<circle cx="25.2" cy="577.4" r="5.3" fill="url(#g4_1)"/>
<circle cx="10.0" cy="601.4" r="4.7" fill="url(#g4_0)"/>
<circle cx="35.9" cy="628.7" r="4.6" fill="url(#g4_0)"/>
<circle cx="109.9" cy="646.2" r="4.6" fill="url(#g4_1)"/>
<circle cx="158.5" cy="660.3" r="5.3" fill="url(#g4_1)"/>
<circle cx="63.6" cy="648.2" r="4.6" fill="url(#g4_0)"/>
<circle cx="60.2" cy="638.7" r="4.8" fill="url(#g4_0)"/>
<circle cx="76.4" cy="595.4" r="4.9" fill="url(#g4_0)"/>
<circle cx="119.7" cy="647.9" r="4.6" fill="url(#g4_1)"/>
<circle cx="135.0" cy="640.3" r="4.6" fill="url(#g4_1)"/>
<circle cx="167.4" cy="684.0" r="4.7" fill="url(#g4_1)"/>
<circle cx="66.7" cy="595.2" r="5.1" fill="url(#g4_1)"/>
<circle cx="130.8" cy="586.3" r="5.2" fill="url(#g4_1)"/>
<circle cx="52.0" cy="620.9" r="5.2" fill="url(#g4_1)"/>
<circle cx="149.7" cy="604.8" r="4.8" fill="url(#g4_0)"/>
<circle cx="45.9" cy="629.3" r="5.0" fill="url(#g4_0)"/>
<circle cx="165.5" cy="596.3" r="4.6" fill="url(#g4_0)"/>
<circle cx="95.1" cy="659.3" r="4.7" fill="url(#g4_1)"/>
<circle cx="128.5" cy="666.2" r="4.9" fill="url(#g4_1)"/>
<circle cx="44.7" cy="675.4" r="5.3" fill="url(#g4_1)"/>
<circle cx="90.7" cy="586.0" r="4.9" fill="url(#g4_0)"/>
<circle cx="2.9" cy="618.2" r="4.6" fill="url(#g4_1)"/>
<circle cx="-4.0" cy="643.3" r="5.3" fill="url(#g4_1)"/>
<circle cx="91.9" cy="624.4" r="4.7" fill="url(#g4_1)"/>
<circle cx="81.9" cy="604.7" r="5.2" fill="url(#g4_0)"/>
<circle cx="150.3" cy="655.1" r="5.3" fill="url(#g4_1)"/>
<circle cx="-4.0" cy="673.5" r="4.8" fill="url(#g4_0)"/>
<circle cx="106.0" cy="594.2" r="5.1" fill="url(#g4_1)"/>
<circle cx="85.9" cy="595.0" r="4.6" fill="url(#g4_1)"/>
<circle cx="106.1" cy="636.6" r="5.1" fill="url(#g4_0)"/>
<circle cx="135.7" cy="595.4" r="5.1" fill="url(#g4_0)"/>
<circle cx="104.1" cy="675.7" r="5.1" fill="url(#g4_1)"/>
<circle cx="109.6" cy="667.0" r="4.7" fill="url(#g4_1)"/>
<circle cx="104.7" cy="660.1" r="5.2" fill="url(#g4_1)"/>
<circle cx="109.0" cy="620.1" r="4.7" fill="url(#g4_0)"/>
<circle cx="40.0" cy="668.0" r="5.1" fill="url(#g4_1)"/>
<circle cx="105.7" cy="611.2" r="4.7" fill="url(#g4_1)"/>
<circle cx="119.0" cy="621.1" r="5.2" fill="url(#g4_1)"/>
<circle cx="19.7" cy="585.4" r="4.5" fill="url(#g4_1)"/>
<circle cx="176.0" cy="585.5" r="5.1" fill="url(#g4_0)"/>
<circle cx="129.9" cy="648.7" r="4.9" fill="url(#g4_1)"/>
<circle cx="176.0" cy="594.3" r="4.7" fill="url(#g4_0)"/>
<circle cx="39.2" cy="684.0" r="5.2" fill="url(#g4_0)"/>
<circle cx="79.5" cy="640.4" r="4.9" fill="url(#g4_1)"/>
<circle cx="38.9" cy="650.0" r="5.3" fill="url(#g4_0)"/>
<circle cx="3.7" cy="678.1" r="5.0" fill="url(#g4_1)"/>
<circle cx="-4.0" cy="622.9" r="4.7" fill="url(#g4_1)"/>
<circle cx="46.0" cy="577.4" r="4.6" fill="url(#g4_0)"/>
<circle cx="159.4" cy="605.3" r="5.3" fill="url(#g4_0)"/>
<circle cx="20.1" cy="634.6" r="4.9" fill="url(#g4_1)"/>
<circle cx="125.8" cy="595.0" r="5.0" fill="url(#g4_1)"/>
<circle cx="38.4" cy="601.0" r="4.6" fill="url(#g4_0)"/>
<circle cx="12.7" cy="664.0" r="4.8" fill="url(#g4_1)"/>
<circle cx="31.4" cy="619.2" r="5.4" fill="url(#g4_0)"/>
<circle cx="125.1" cy="612.7" r="4.9" fill="url(#g4_1)"/>
<circle cx="96.1" cy="610.4" r="4.8" fill="url(#g4_0)"/>
<circle cx="95.7" cy="634.0" r="4.9" fill="url(#g4_0)"/>
<circle cx="88.5" cy="684.0" r="5.4" fill="url(#g4_0)"/>
<circle cx="46.0" cy="594.4" r="4.9" fill="url(#g4_0)"/>
<circle cx="89.1" cy="667.4" r="4.7" fill="url(#g4_1)"/>
<circle cx="167.8" cy="666.2" r="5.3" fill="url(#g4_0)"/>
<circle cx="30.7" cy="655.7" r="4.8" fill="url(#g4_0)"/>
<circle cx="132.1" cy="630.9" r="5.1" fill="url(#g4_0)"/>
<circle cx="50.4" cy="637.4" r="4.9" fill="url(#g4_0)"/>
<circle cx="30.3" cy="585.2" r="5.1" fill="url(#g4_1)"/>
<circle cx="54.6" cy="647.1" r="5.2" fill="url(#g4_0)"/>
<circle cx="9.3" cy="684.0" r="4.8" fill="url(#g4_0)"/>
<circle cx="167.5" cy="656.2" r="5.1" fill="url(#g4_1)"/>
<circle cx="56.2" cy="629.6" r="5.0" fill="url(#g4_0)"/>
<circle cx="25.9" cy="627.1" r="4.5" fill="url(#g4_0)"/>
<circle cx="-4.0" cy="684.0" r="4.9" fill="url(#g4_1)"/>
<circle cx="4.9" cy="577.4" r="5.1" fill="url(#g4_0)"/>
<circle cx="35.3" cy="593.0" r="4.6" fill="url(#g4_0)"/>
<circle cx="78.4" cy="684.0" r="4.5" fill="url(#g4_0)"/>
<circle cx="113.3" cy="656.3" r="4.6" fill="url(#g4_0)"/>
<circle cx="176.0" cy="673.3" r="4.6" fill="url(#g4_1)"/>
<circle cx="167.4" cy="635.5" r="4.6" fill="url(#g4_1)"/>
<circle cx="35.7" cy="577.4" r="4.7" fill="url(#g4_1)"/>
<circle cx="112.5" cy="629.1" r="4.5" fill="url(#g4_0)"/>
<circle cx="159.2" cy="650.5" r="5.4" fill="url(#g4_0)"/>
<circle cx="14.9" cy="577.4" r="5.2" fill="url(#g4_1)"/>
<circle cx="149.3" cy="623.9" r="4.7" fill="url(#g4_0)"/>
<circle cx="58.7" cy="684.0" r="5.0" fill="url(#g4_1)"/>
<circle cx="135.7" cy="577.4" r="4.8" fill="url(#g4_1)"/>
<circle cx="56.1" cy="577.4" r="4.7" fill="url(#g4_0)"/>
<circle cx="116.0" cy="594.6" r="5.0" fill="url(#g4_0)"/>
<circle cx="92.5" cy="650.5" r="5.2" fill="url(#g4_0)"/>
<circle cx="13.6" cy="674.8" r="4.9" fill="url(#g4_0)"/>
<circle cx="140.5" cy="586.4" r="4.7" fill="url(#g4_1)"/>
<circle cx="138.5" cy="667.0" r="4.7" fill="url(#g4_0)"/>
<circle cx="90.8" cy="603.4" r="4.8" fill="url(#g4_0)"/>
<circle cx="69.9" cy="639.7" r="5.2" fill="url(#g4_1)"/>
<circle cx="176.0" cy="662.2" r="5.3" fill="url(#g4_0)"/>
<circle cx="61.5" cy="585.9" r="4.8" fill="url(#g4_0)"/>
<circle cx="158.8" cy="630.3" r="5.0" fill="url(#g4_0)"/>
<circle cx="79.2" cy="666.9" r="4.5" fill="url(#g4_0)"/>
<circle cx="60.1" cy="614.2" r="5.0" fill="url(#g4_1)"/>
<circle cx="59.5" cy="665.9" r="5.1" fill="url(#g4_1)"/>
<circle cx="3.8" cy="638.6" r="5.2" fill="url(#g4_0)"/>
<circle cx="34.1" cy="675.4" r="5.2" fill="url(#g4_1)"/>
<circle cx="41.0" cy="620.9" r="4.5" fill="url(#g4_0)"/>
<circle cx="4.8" cy="668.7" r="4.6" fill="url(#g4_0)"/>
<circle cx="100.7" cy="585.9" r="5.0" fill="url(#g4_1)"/>
<circle cx="68.7" cy="613.0" r="5.3" fill="url(#g4_1)"/>
<circle cx="8.8" cy="585.4" r="4.7" fill="url(#g4_0)"/>
<circle cx="21.4" cy="618.5" r="5.1" fill="url(#g4_1)"/>
<circle cx="165.8" cy="614.9" r="5.1" fill="url(#g4_0)"/>
<circle cx="20.1" cy="601.8" r="4.6" fill="url(#g4_0)"/>
<circle cx="66.4" cy="630.8" r="5.4" fill="url(#g4_1)"/>
<circle cx="167.6" cy="645.9" r="4.5" fill="url(#g4_1)"/>
<circle cx="22.8" cy="642.3" r="5.2" fill="url(#g4_0)"/>
<circle cx="72.2" cy="604.2" r="5.1" fill="url(#g4_1)"/>
<circle cx="140.5" cy="649.6" r="5.3" fill="url(#g4_1)"/>
<circle cx="-4.0" cy="653.4" r="4.6" fill="url(#g4_1)"/>
<circle cx="11.3" cy="634.7" r="4.7" fill="url(#g4_0)"/>
<circle cx="176.0" cy="631.1" r="4.7" fill="url(#g4_1)"/>
<circle cx="110.9" cy="602.9" r="4.7" fill="url(#g4_0)"/>
<circle cx="24.4" cy="675.8" r="5.1" fill="url(#g4_1)"/>
<circle cx="98.9" cy="618.7" r="4.9" fill="url(#g4_0)"/>
<circle cx="36.2" cy="610.8" r="4.8" fill="url(#g4_1)"/>
<circle cx="153.5" cy="675.8" r="4.5" fill="url(#g4_0)"/>
</g></g>
<text x="70.89999999999999" y="579" font-size="11.5" fill="#1d2352" stroke="#1d2352" stroke-width="0.3" font-family="'Liberation Serif', serif" font-style="italic">f</text>
<text x="75.8" y="579" font-size="7.5" fill="#1d2352" stroke="#1d2352" stroke-width="0.3" font-family="'Liberation Serif', serif" font-style="italic">r</text>
<text x="81.1" y="579" font-size="10.5" fill="#1d2352" stroke="#1d2352" stroke-width="0.4" textLength="31.8" lengthAdjust="spacingAndGlyphs">= 1.08</text>
<text x="138.8" y="666.4" font-size="7.8" fill="#000" stroke="#000" stroke-width="0.25" textLength="26.9" lengthAdjust="spacingAndGlyphs">200 μm</text>
<rect x="140.3" y="669.6" width="23.7" height="3.6" fill="#000"/>
<g clip-path="url(#c5)">
<rect x="180" y="583.6" width="166.0" height="94.2" fill="#acb0de"/>
<g filter="url(#blur)" stroke="#545698" stroke-width="1.4">
<circle cx="267.0" cy="651.1" r="5.0" fill="url(#g5_1)" stroke="#6b6dae"/>
<circle cx="229.1" cy="629.5" r="4.4" fill="url(#g5_0)" stroke="#5e60a2"/>
<circle cx="248.2" cy="595.4" r="4.7" fill="url(#g5_1)" stroke="#6466a8"/>
<circle cx="230.1" cy="657.1" r="4.3" fill="url(#g5_1)" stroke="#5e60a2"/>
<circle cx="351.8" cy="673.4" r="5.0" fill="url(#g5_1)" stroke="#787abb"/>
<circle cx="283.6" cy="585.6" r="4.8" fill="url(#g5_0)" stroke="#7173b4"/>
<circle cx="295.0" cy="658.4" r="4.8" fill="url(#g5_1)" stroke="#7577b8"/>
<circle cx="238.3" cy="674.6" r="4.8" fill="url(#g5_0)" stroke="#6163a5"/>
<circle cx="297.2" cy="595.5" r="4.6" fill="url(#g5_0)" stroke="#7577b9"/>
<circle cx="188.6" cy="594.6" r="4.7" fill="url(#g5_1)" stroke="#545698"/>
<circle cx="174.2" cy="651.7" r="4.4" fill="url(#g5_0)" stroke="#545698"/>
<circle cx="325.4" cy="625.4" r="5.0" fill="url(#g5_0)" stroke="#787abb"/>
<circle cx="174.2" cy="588.7" r="4.8" fill="url(#g5_0)" stroke="#545698"/>
<circle cx="351.8" cy="651.6" r="5.1" fill="url(#g5_1)" stroke="#787abb"/>
<circle cx="321.8" cy="668.3" r="5.1" fill="url(#g5_0)" stroke="#787abb"/>
<circle cx="316.0" cy="644.8" r="4.5" fill="url(#g5_1)" stroke="#787abb"/>
<circle cx="174.2" cy="577.8" r="4.8" fill="url(#g5_0)" stroke="#545698"/>
<circle cx="207.2" cy="577.8" r="4.9" fill="url(#g5_0)" stroke="#56589a"/>
<circle cx="325.3" cy="634.2" r="4.9" fill="url(#g5_1)" stroke="#787abb"/>
<circle cx="253.5" cy="641.0" r="4.6" fill="url(#g5_0)" stroke="#6668aa"/>
<circle cx="281.1" cy="683.6" r="4.5" fill="url(#g5_0)" stroke="#7072b3"/>
<circle cx="191.8" cy="650.6" r="4.5" fill="url(#g5_1)" stroke="#545698"/>
<circle cx="209.9" cy="650.0" r="4.9" fill="url(#g5_1)" stroke="#57599b"/>
<circle cx="255.4" cy="666.5" r="4.8" fill="url(#g5_1)" stroke="#6769aa"/>
<circle cx="300.8" cy="614.6" r="5.2" fill="url(#g5_0)" stroke="#7779ba"/>
<circle cx="258.4" cy="577.8" r="4.8" fill="url(#g5_1)" stroke="#686aab"/>
<circle cx="182.5" cy="585.6" r="4.7" fill="url(#g5_0)" stroke="#545698"/>
<circle cx="325.9" cy="605.1" r="4.9" fill="url(#g5_1)" stroke="#787abb"/>
<circle cx="184.9" cy="675.5" r="5.0" fill="url(#g5_0)" stroke="#545698"/>
<circle cx="250.1" cy="631.5" r="4.7" fill="url(#g5_1)" stroke="#6567a9"/>
<circle cx="268.2" cy="577.8" r="4.5" fill="url(#g5_1)" stroke="#6b6daf"/>
<circle cx="223.8" cy="665.3" r="4.9" fill="url(#g5_0)" stroke="#5c5ea0"/>
<circle cx="341.1" cy="577.8" r="4.5" fill="url(#g5_1)" stroke="#787abb"/>
<circle cx="261.6" cy="659.2" r="4.8" fill="url(#g5_1)" stroke="#696bad"/>
<circle cx="263.3" cy="587.4" r="4.5" fill="url(#g5_1)" stroke="#6a6cad"/>
<circle cx="351.8" cy="585.8" r="4.7" fill="url(#g5_1)" stroke="#787abb"/>
<circle cx="218.2" cy="614.0" r="4.7" fill="url(#g5_1)" stroke="#5a5c9e"/>
<circle cx="329.5" cy="650.9" r="4.9" fill="url(#g5_1)" stroke="#787abb"/>
<circle cx="232.5" cy="602.9" r="5.0" fill="url(#g5_1)" stroke="#5f61a3"/>
<circle cx="237.2" cy="621.6" r="4.5" fill="url(#g5_1)" stroke="#6163a4"/>
<circle cx="332.6" cy="668.2" r="4.5" fill="url(#g5_1)" stroke="#787abb"/>
<circle cx="180.6" cy="595.5" r="5.0" fill="url(#g5_0)" stroke="#545698"/>
<circle cx="324.8" cy="643.0" r="4.6" fill="url(#g5_0)" stroke="#787abb"/>
<circle cx="316.5" cy="601.3" r="5.2" fill="url(#g5_0)" stroke="#787abb"/>
<circle cx="333.8" cy="588.7" r="5.0" fill="url(#g5_0)" stroke="#787abb"/>
<circle cx="174.2" cy="662.2" r="4.6" fill="url(#g5_1)" stroke="#545698"/>
<circle cx="218.1" cy="645.2" r="4.4" fill="url(#g5_0)" stroke="#5a5c9e"/>
<circle cx="309.9" cy="617.2" r="4.6" fill="url(#g5_0)" stroke="#787abb"/>
<circle cx="247.3" cy="622.3" r="5.0" fill="url(#g5_1)" stroke="#6466a8"/>
<circle cx="174.2" cy="620.8" r="4.5" fill="url(#g5_1)" stroke="#545698"/>
<circle cx="298.2" cy="641.1" r="4.4" fill="url(#g5_0)" stroke="#7678b9"/>
<circle cx="309.1" cy="577.8" r="4.4" fill="url(#g5_0)" stroke="#787abb"/>
<circle cx="351.8" cy="594.0" r="4.4" fill="url(#g5_1)" stroke="#787abb"/>
<circle cx="202.6" cy="586.4" r="5.1" fill="url(#g5_0)" stroke="#555799"/>
<circle cx="227.7" cy="594.7" r="4.4" fill="url(#g5_0)" stroke="#5d5fa1"/>
<circle cx="315.9" cy="636.0" r="4.9" fill="url(#g5_1)" stroke="#787abb"/>
<circle cx="183.0" cy="615.6" r="5.1" fill="url(#g5_1)" stroke="#545698"/>
<circle cx="226.9" cy="648.8" r="4.3" fill="url(#g5_0)" stroke="#5d5fa1"/>
<circle cx="259.9" cy="632.6" r="4.5" fill="url(#g5_1)" stroke="#696bac"/>
<circle cx="240.3" cy="657.2" r="4.7" fill="url(#g5_1)" stroke="#6264a5"/>
<circle cx="273.0" cy="643.1" r="4.8" fill="url(#g5_1)" stroke="#6d6fb0"/>
<circle cx="330.9" cy="577.8" r="4.6" fill="url(#g5_0)" stroke="#787abb"/>
<circle cx="278.4" cy="577.8" r="5.1" fill="url(#g5_1)" stroke="#6f71b2"/>
<circle cx="289.2" cy="638.5" r="4.7" fill="url(#g5_1)" stroke="#7375b6"/>
<circle cx="289.7" cy="666.3" r="4.3" fill="url(#g5_0)" stroke="#7375b6"/>
<circle cx="202.2" cy="665.8" r="4.8" fill="url(#g5_0)" stroke="#555798"/>
<circle cx="248.4" cy="577.8" r="4.3" fill="url(#g5_0)" stroke="#6567a8"/>
<circle cx="351.8" cy="641.1" r="4.3" fill="url(#g5_0)" stroke="#787abb"/>
<circle cx="342.5" cy="596.0" r="4.6" fill="url(#g5_0)" stroke="#787abb"/>
<circle cx="306.7" cy="597.5" r="4.9" fill="url(#g5_1)" stroke="#787abb"/>
<circle cx="267.4" cy="667.0" r="4.7" fill="url(#g5_1)" stroke="#6b6dae"/>
<circle cx="334.1" cy="640.7" r="4.4" fill="url(#g5_1)" stroke="#787abb"/>
<circle cx="284.9" cy="657.1" r="4.3" fill="url(#g5_0)" stroke="#7173b4"/>
<circle cx="243.9" cy="639.9" r="5.0" fill="url(#g5_1)" stroke="#6365a7"/>
<circle cx="266.4" cy="675.4" r="5.1" fill="url(#g5_0)" stroke="#6b6dae"/>
<circle cx="212.9" cy="604.0" r="4.5" fill="url(#g5_1)" stroke="#585a9c"/>
<circle cx="276.7" cy="626.5" r="4.8" fill="url(#g5_0)" stroke="#6e70b2"/>
<circle cx="228.3" cy="674.4" r="4.8" fill="url(#g5_0)" stroke="#5e60a1"/>
<circle cx="310.4" cy="652.4" r="5.1" fill="url(#g5_1)" stroke="#787abb"/>
<circle cx="351.8" cy="602.6" r="4.8" fill="url(#g5_0)" stroke="#787abb"/>
<circle cx="317.6" cy="610.4" r="4.9" fill="url(#g5_1)" stroke="#787abb"/>
<circle cx="174.2" cy="641.4" r="4.5" fill="url(#g5_0)" stroke="#545698"/>
<circle cx="291.3" cy="612.4" r="4.9" fill="url(#g5_1)" stroke="#7375b7"/>
<circle cx="310.8" cy="668.0" r="4.3" fill="url(#g5_1)" stroke="#787abb"/>
<circle cx="326.3" cy="660.3" r="4.4" fill="url(#g5_0)" stroke="#787abb"/>
<circle cx="264.3" cy="615.1" r="4.8" fill="url(#g5_0)" stroke="#6a6cad"/>
<circle cx="258.2" cy="596.1" r="5.0" fill="url(#g5_0)" stroke="#686aab"/>
<circle cx="268.5" cy="596.9" r="4.9" fill="url(#g5_1)" stroke="#6c6eaf"/>
<circle cx="192.8" cy="602.8" r="4.4" fill="url(#g5_0)" stroke="#545698"/>
<circle cx="343.0" cy="625.9" r="4.9" fill="url(#g5_0)" stroke="#787abb"/>
<circle cx="351.8" cy="631.3" r="4.9" fill="url(#g5_0)" stroke="#787abb"/>
<circle cx="218.5" cy="674.7" r="5.1" fill="url(#g5_1)" stroke="#5a5c9e"/>
<circle cx="351.8" cy="621.5" r="4.6" fill="url(#g5_1)" stroke="#787abb"/>
<circle cx="200.8" cy="625.5" r="5.0" fill="url(#g5_0)" stroke="#545698"/>
<circle cx="183.4" cy="605.3" r="4.3" fill="url(#g5_1)" stroke="#545698"/>
<circle cx="301.0" cy="683.6" r="4.4" fill="url(#g5_0)" stroke="#7779ba"/>
<circle cx="318.7" cy="619.6" r="4.9" fill="url(#g5_0)" stroke="#787abb"/>
<circle cx="207.7" cy="595.7" r="4.3" fill="url(#g5_1)" stroke="#56589a"/>
<circle cx="343.0" cy="605.7" r="5.0" fill="url(#g5_0)" stroke="#787abb"/>
<circle cx="246.8" cy="649.1" r="4.3" fill="url(#g5_1)" stroke="#6466a8"/>
<circle cx="202.2" cy="604.9" r="4.3" fill="url(#g5_1)" stroke="#545698"/>
<circle cx="232.9" cy="683.6" r="4.8" fill="url(#g5_1)" stroke="#5f61a3"/>
<circle cx="182.9" cy="625.9" r="4.4" fill="url(#g5_0)" stroke="#545698"/>
<circle cx="305.2" cy="659.8" r="4.9" fill="url(#g5_1)" stroke="#787abb"/>
<circle cx="218.9" cy="634.4" r="4.9" fill="url(#g5_1)" stroke="#5a5c9e"/>
<circle cx="300.9" cy="650.6" r="4.5" fill="url(#g5_1)" stroke="#7779ba"/>
<circle cx="251.9" cy="604.6" r="4.5" fill="url(#g5_1)" stroke="#6668a9"/>
<circle cx="192.3" cy="669.4" r="4.5" fill="url(#g5_0)" stroke="#545698"/>
<circle cx="279.5" cy="665.7" r="5.0" fill="url(#g5_0)" stroke="#6f71b3"/>
<circle cx="343.2" cy="667.1" r="4.8" fill="url(#g5_1)" stroke="#787abb"/>
<circle cx="191.9" cy="640.8" r="5.1" fill="url(#g5_1)" stroke="#545698"/>
<circle cx="344.5" cy="656.7" r="4.9" fill="url(#g5_1)" stroke="#787abb"/>
<circle cx="182.8" cy="666.2" r="5.1" fill="url(#g5_0)" stroke="#545698"/>
<circle cx="279.0" cy="601.4" r="4.5" fill="url(#g5_0)" stroke="#6f71b2"/>
<circle cx="196.8" cy="577.8" r="4.8" fill="url(#g5_1)" stroke="#545698"/>
<circle cx="351.8" cy="683.6" r="5.0" fill="url(#g5_0)" stroke="#787abb"/>
<circle cx="274.0" cy="617.0" r="4.9" fill="url(#g5_0)" stroke="#6d6fb1"/>
<circle cx="325.3" cy="595.3" r="4.4" fill="url(#g5_1)" stroke="#787abb"/>
<circle cx="300.1" cy="667.3" r="5.0" fill="url(#g5_0)" stroke="#7678ba"/>
<circle cx="257.4" cy="674.9" r="5.1" fill="url(#g5_1)" stroke="#686aab"/>
<circle cx="209.8" cy="639.9" r="5.1" fill="url(#g5_1)" stroke="#57599b"/>
<circle cx="334.2" cy="599.5" r="4.8" fill="url(#g5_1)" stroke="#787abb"/>
<circle cx="327.8" cy="675.9" r="5.0" fill="url(#g5_0)" stroke="#787abb"/>
<circle cx="314.2" cy="627.2" r="4.4" fill="url(#g5_0)" stroke="#787abb"/>
<circle cx="304.3" cy="587.5" r="4.8" fill="url(#g5_0)" stroke="#787abb"/>
<circle cx="174.2" cy="600.6" r="5.0" fill="url(#g5_0)" stroke="#545698"/>
<circle cx="217.6" cy="594.9" r="4.6" fill="url(#g5_0)" stroke="#5a5c9e"/>
<circle cx="275.7" cy="674.3" r="4.5" fill="url(#g5_0)" stroke="#6e70b1"/>
<circle cx="183.2" cy="683.6" r="5.0" fill="url(#g5_1)" stroke="#545698"/>
<circle cx="271.6" cy="683.6" r="4.9" fill="url(#g5_0)" stroke="#6d6fb0"/>
<circle cx="351.8" cy="611.9" r="5.0" fill="url(#g5_1)" stroke="#787abb"/>
<circle cx="240.1" cy="630.3" r="5.2" fill="url(#g5_1)" stroke="#6264a5"/>
<circle cx="296.5" cy="631.4" r="4.6" fill="url(#g5_0)" stroke="#7577b8"/>
<circle cx="200.5" cy="615.6" r="4.9" fill="url(#g5_1)" stroke="#545698"/>
<circle cx="299.3" cy="577.8" r="4.7" fill="url(#g5_0)" stroke="#7678b9"/>
<circle cx="314.0" cy="584.8" r="4.4" fill="url(#g5_1)" stroke="#787abb"/>
<circle cx="254.8" cy="613.9" r="5.0" fill="url(#g5_1)" stroke="#6769aa"/>
<circle cx="245.2" cy="613.2" r="5.0" fill="url(#g5_1)" stroke="#6365a7"/>
<circle cx="185.9" cy="577.8" r="4.7" fill="url(#g5_1)" stroke="#545698"/>
<circle cx="324.4" cy="586.1" r="5.1" fill="url(#g5_0)" stroke="#787abb"/>
<circle cx="334.7" cy="610.0" r="4.7" fill="url(#g5_0)" stroke="#787abb"/>
<circle cx="279.6" cy="635.9" r="5.1" fill="url(#g5_0)" stroke="#6f71b3"/>
<circle cx="303.9" cy="624.5" r="4.7" fill="url(#g5_0)" stroke="#787abb"/>
<circle cx="213.9" cy="666.1" r="4.7" fill="url(#g5_0)" stroke="#595b9c"/>
<circle cx="306.1" cy="633.7" r="5.2" fill="url(#g5_0)" stroke="#787abb"/>
<circle cx="222.7" cy="586.2" r="4.5" fill="url(#g5_1)" stroke="#5c5e9f"/>
<circle cx="294.1" cy="586.3" r="4.9" fill="url(#g5_1)" stroke="#7476b7"/>
<circle cx="174.2" cy="610.6" r="5.2" fill="url(#g5_0)" stroke="#545698"/>
<circle cx="234.7" cy="638.3" r="4.5" fill="url(#g5_0)" stroke="#6062a3"/>
<circle cx="208.3" cy="674.4" r="5.0" fill="url(#g5_1)" stroke="#57599b"/>
<circle cx="174.2" cy="683.6" r="4.4" fill="url(#g5_0)" stroke="#545698"/>
<circle cx="223.1" cy="683.6" r="4.8" fill="url(#g5_0)" stroke="#5c5ea0"/>
<circle cx="342.8" cy="683.6" r="4.4" fill="url(#g5_1)" stroke="#787abb"/>
<circle cx="227.6" cy="619.8" r="5.1" fill="url(#g5_0)" stroke="#5d5fa1"/>
<circle cx="191.9" cy="630.9" r="4.5" fill="url(#g5_0)" stroke="#545698"/>
<circle cx="289.0" cy="577.8" r="5.1" fill="url(#g5_1)" stroke="#7375b6"/>
<circle cx="311.5" cy="683.6" r="4.6" fill="url(#g5_1)" stroke="#787abb"/>
<circle cx="226.2" cy="639.4" r="4.5" fill="url(#g5_1)" stroke="#5d5fa1"/>
<circle cx="351.8" cy="577.8" r="4.9" fill="url(#g5_0)" stroke="#787abb"/>
<circle cx="295.3" cy="675.2" r="4.4" fill="url(#g5_1)" stroke="#7577b8"/>
<circle cx="257.0" cy="650.2" r="5.1" fill="url(#g5_0)" stroke="#686aab"/>
<circle cx="332.8" cy="683.6" r="4.6" fill="url(#g5_0)" stroke="#787abb"/>
<circle cx="315.4" cy="592.6" r="4.9" fill="url(#g5_1)" stroke="#787abb"/>
<circle cx="281.4" cy="610.3" r="4.9" fill="url(#g5_1)" stroke="#7072b3"/>
<circle cx="212.5" cy="586.5" r="4.7" fill="url(#g5_1)" stroke="#585a9c"/>
<circle cx="261.8" cy="683.6" r="5.0" fill="url(#g5_1)" stroke="#696bad"/>
<circle cx="272.7" cy="586.3" r="4.5" fill="url(#g5_1)" stroke="#6d6fb0"/>
<circle cx="335.8" cy="659.7" r="4.8" fill="url(#g5_0)" stroke="#787abb"/>
<circle cx="337.5" cy="650.1" r="4.4" fill="url(#g5_1)" stroke="#787abb"/>
<circle cx="174.2" cy="631.1" r="4.4" fill="url(#g5_1)" stroke="#545698"/>
<circle cx="266.8" cy="624.6" r="4.4" fill="url(#g5_1)" stroke="#6b6dae"/>
<circle cx="343.0" cy="615.9" r="4.7" fill="url(#g5_0)" stroke="#787abb"/>
<circle cx="244.6" cy="665.9" r="4.6" fill="url(#g5_1)" stroke="#6365a7"/>
<circle cx="307.3" cy="642.8" r="4.5" fill="url(#g5_1)" stroke="#787abb"/>
<circle cx="208.9" cy="611.8" r="4.3" fill="url(#g5_0)" stroke="#57599b"/>
<circle cx="320.5" cy="652.7" r="4.8" fill="url(#g5_1)" stroke="#787abb"/>
<circle cx="200.9" cy="645.4" r="5.0" fill="url(#g5_0)" stroke="#545698"/>
<circle cx="210.0" cy="620.8" r="5.0" fill="url(#g5_0)" stroke="#57599b"/>
<circle cx="219.2" cy="656.0" r="4.3" fill="url(#g5_1)" stroke="#5a5c9e"/>
<circle cx="198.4" cy="594.9" r="4.4" fill="url(#g5_1)" stroke="#545698"/>
<circle cx="284.0" cy="619.6" r="5.1" fill="url(#g5_0)" stroke="#7173b4"/>
<circle cx="315.8" cy="660.6" r="4.3" fill="url(#g5_0)" stroke="#787abb"/>
<circle cx="200.6" cy="655.4" r="5.1" fill="url(#g5_1)" stroke="#545698"/>
<circle cx="209.4" cy="659.0" r="4.7" fill="url(#g5_1)" stroke="#57599b"/>
<circle cx="242.6" cy="683.6" r="4.7" fill="url(#g5_0)" stroke="#6365a6"/>
<circle cx="226.9" cy="610.9" r="4.5" fill="url(#g5_0)" stroke="#5d5fa1"/>
<circle cx="285.3" cy="674.7" r="4.8" fill="url(#g5_1)" stroke="#7173b5"/>
<circle cx="192.3" cy="660.5" r="4.9" fill="url(#g5_0)" stroke="#545698"/>
<circle cx="272.3" cy="659.5" r="4.5" fill="url(#g5_0)" stroke="#6d6fb0"/>
<circle cx="261.7" cy="605.4" r="4.7" fill="url(#g5_0)" stroke="#696bad"/>
<circle cx="192.5" cy="586.1" r="4.3" fill="url(#g5_1)" stroke="#545698"/>
<circle cx="250.8" cy="658.0" r="4.8" fill="url(#g5_1)" stroke="#6567a9"/>
<circle cx="233.1" cy="586.3" r="4.7" fill="url(#g5_1)" stroke="#5f61a3"/>
<circle cx="183.0" cy="646.1" r="4.9" fill="url(#g5_1)" stroke="#545698"/>
<circle cx="227.9" cy="577.8" r="4.4" fill="url(#g5_0)" stroke="#5d5fa1"/>
<circle cx="287.4" cy="594.3" r="4.8" fill="url(#g5_1)" stroke="#7274b5"/>
<circle cx="334.4" cy="620.6" r="4.7" fill="url(#g5_0)" stroke="#787abb"/>
<circle cx="339.2" cy="675.4" r="4.7" fill="url(#g5_1)" stroke="#787abb"/>
<circle cx="298.8" cy="604.9" r="4.4" fill="url(#g5_1)" stroke="#7678b9"/>
<circle cx="252.2" cy="683.6" r="4.3" fill="url(#g5_0)" stroke="#6668a9"/>
<circle cx="192.8" cy="683.6" r="4.7" fill="url(#g5_0)" stroke="#545698"/>
<circle cx="291.3" cy="649.0" r="5.0" fill="url(#g5_1)" stroke="#7375b7"/>
<circle cx="271.2" cy="607.2" r="4.5" fill="url(#g5_0)" stroke="#6c6eb0"/>
<circle cx="326.8" cy="614.9" r="4.4" fill="url(#g5_0)" stroke="#787abb"/>
<circle cx="213.2" cy="683.6" r="5.0" fill="url(#g5_0)" stroke="#585a9c"/>
<circle cx="286.7" cy="628.9" r="4.8" fill="url(#g5_1)" stroke="#7274b5"/>
<circle cx="183.0" cy="636.0" r="4.7" fill="url(#g5_0)" stroke="#545698"/>
<circle cx="219.2" cy="624.6" r="4.7" fill="url(#g5_0)" stroke="#5a5c9e"/>
<circle cx="243.4" cy="586.4" r="5.0" fill="url(#g5_0)" stroke="#6365a6"/>
<circle cx="236.6" cy="648.0" r="4.3" fill="url(#g5_0)" stroke="#6062a4"/>
<circle cx="282.9" cy="645.5" r="4.7" fill="url(#g5_0)" stroke="#7072b4"/>
<circle cx="351.8" cy="662.7" r="4.7" fill="url(#g5_1)" stroke="#787abb"/>
<circle cx="334.3" cy="630.6" r="4.6" fill="url(#g5_0)" stroke="#787abb"/>
<circle cx="253.5" cy="586.8" r="4.4" fill="url(#g5_0)" stroke="#6668aa"/>
<circle cx="203.3" cy="683.6" r="4.6" fill="url(#g5_0)" stroke="#555799"/>
<circle cx="277.6" cy="593.2" r="4.6" fill="url(#g5_1)" stroke="#6f71b2"/>
<circle cx="308.2" cy="607.3" r="5.1" fill="url(#g5_1)" stroke="#787abb"/>
<circle cx="277.1" cy="652.2" r="5.0" fill="url(#g5_0)" stroke="#6e70b2"/>
<circle cx="294.0" cy="621.9" r="4.5" fill="url(#g5_0)" stroke="#7476b7"/>
<circle cx="200.9" cy="635.4" r="4.9" fill="url(#g5_0)" stroke="#545698"/>
<circle cx="222.2" cy="603.5" r="5.1" fill="url(#g5_0)" stroke="#5b5d9f"/>
<circle cx="198.4" cy="675.5" r="4.4" fill="url(#g5_0)" stroke="#545698"/>
<circle cx="174.2" cy="673.0" r="5.0" fill="url(#g5_1)" stroke="#545698"/>
<circle cx="257.1" cy="623.3" r="5.1" fill="url(#g5_0)" stroke="#686aab"/>
<circle cx="305.8" cy="675.6" r="5.0" fill="url(#g5_0)" stroke="#787abb"/>
<circle cx="234.3" cy="665.8" r="4.5" fill="url(#g5_1)" stroke="#6062a3"/>
<circle cx="344.0" cy="645.4" r="4.3" fill="url(#g5_1)" stroke="#787abb"/>
<circle cx="238.1" cy="594.7" r="4.8" fill="url(#g5_0)" stroke="#6163a5"/>
<circle cx="238.2" cy="577.8" r="5.0" fill="url(#g5_1)" stroke="#6163a5"/>
<circle cx="316.7" cy="675.8" r="5.1" fill="url(#g5_0)" stroke="#787abb"/>
<circle cx="290.9" cy="683.6" r="4.9" fill="url(#g5_0)" stroke="#7375b6"/>
<circle cx="263.2" cy="642.0" r="5.1" fill="url(#g5_1)" stroke="#6a6cad"/>
<circle cx="209.9" cy="630.2" r="4.7" fill="url(#g5_0)" stroke="#57599b"/>
<circle cx="183.1" cy="656.3" r="4.5" fill="url(#g5_1)" stroke="#545698"/>
<circle cx="191.7" cy="621.1" r="4.7" fill="url(#g5_0)" stroke="#545698"/>
<circle cx="192.0" cy="611.4" r="4.6" fill="url(#g5_1)" stroke="#545698"/>
<circle cx="242.2" cy="603.8" r="4.6" fill="url(#g5_1)" stroke="#6264a6"/>
<circle cx="236.0" cy="612.3" r="5.0" fill="url(#g5_1)" stroke="#6062a4"/>
<circle cx="269.7" cy="633.9" r="4.8" fill="url(#g5_0)" stroke="#6c6eaf"/>
<circle cx="217.5" cy="577.8" r="4.3" fill="url(#g5_0)" stroke="#5a5c9e"/>
<circle cx="289.1" cy="603.2" r="4.5" fill="url(#g5_0)" stroke="#7375b6"/>
<circle cx="342.9" cy="635.8" r="4.8" fill="url(#g5_0)" stroke="#787abb"/>
</g></g>
<text x="240.9" y="579" font-size="11.5" fill="#1d2352" stroke="#1d2352" stroke-width="0.3" font-family="'Liberation Serif', serif" font-style="italic">f</text>
<text x="245.79999999999998" y="579" font-size="7.5" fill="#1d2352" stroke="#1d2352" stroke-width="0.3" font-family="'Liberation Serif', serif" font-style="italic">r</text>
<text x="251.1" y="579" font-size="10.5" fill="#1d2352" stroke="#1d2352" stroke-width="0.4" textLength="31.5" lengthAdjust="spacingAndGlyphs">= 1.19</text>
<text x="316" y="666.4" font-size="7.8" fill="#000" stroke="#000" stroke-width="0.25" textLength="26.9" lengthAdjust="spacingAndGlyphs">200 μm</text>
<rect x="317.2" y="669.2" width="23.7" height="3.6" fill="#000"/>
<g clip-path="url(#c6)">
<rect x="355" y="583.4" width="166.0" height="94.4" fill="#c0b9e5"/>
<g filter="url(#blur)" stroke="#7576bb" stroke-width="1.4">
<circle cx="456.7" cy="596.5" r="5.1" fill="url(#g6_0)"/>
<circle cx="508.9" cy="607.3" r="5.5" fill="url(#g6_1)"/>
<circle cx="486.4" cy="641.9" r="5.9" fill="url(#g6_0)"/>
<circle cx="384.8" cy="576.8" r="5.4" fill="url(#g6_0)"/>
<circle cx="392.6" cy="643.1" r="5.5" fill="url(#g6_0)"/>
<circle cx="503.4" cy="597.4" r="5.1" fill="url(#g6_0)"/>
<circle cx="348.4" cy="653.1" r="5.5" fill="url(#g6_0)"/>
<circle cx="491.5" cy="576.8" r="5.3" fill="url(#g6_0)"/>
<circle cx="485.5" cy="608.8" r="5.8" fill="url(#g6_1)"/>
<circle cx="425.6" cy="673.8" r="5.5" fill="url(#g6_1)"/>
<circle cx="401.1" cy="634.1" r="5.6" fill="url(#g6_0)"/>
<circle cx="391.1" cy="675.0" r="5.6" fill="url(#g6_1)"/>
<circle cx="380.6" cy="648.1" r="5.7" fill="url(#g6_0)"/>
<circle cx="430.1" cy="642.1" r="5.4" fill="url(#g6_1)"/>
<circle cx="432.6" cy="596.5" r="5.4" fill="url(#g6_1)"/>
<circle cx="442.1" cy="641.5" r="5.2" fill="url(#g6_0)"/>
<circle cx="527.6" cy="576.8" r="5.2" fill="url(#g6_1)"/>
<circle cx="488.7" cy="663.1" r="5.8" fill="url(#g6_1)"/>
<circle cx="466.6" cy="684.4" r="5.9" fill="url(#g6_0)"/>
<circle cx="527.6" cy="672.0" r="5.1" fill="url(#g6_1)"/>
<circle cx="391.4" cy="586.5" r="5.4" fill="url(#g6_0)"/>
<circle cx="378.7" cy="613.3" r="5.0" fill="url(#g6_1)"/>
<circle cx="450.7" cy="607.1" r="5.3" fill="url(#g6_1)"/>
<circle cx="348.4" cy="576.8" r="5.4" fill="url(#g6_0)"/>
<circle cx="359.0" cy="648.0" r="5.4" fill="url(#g6_0)"/>
<circle cx="442.2" cy="664.2" r="5.6" fill="url(#g6_1)"/>
<circle cx="428.1" cy="608.5" r="5.3" fill="url(#g6_1)"/>
<circle cx="507.2" cy="672.9" r="5.4" fill="url(#g6_0)"/>
<circle cx="466.1" cy="664.6" r="5.4" fill="url(#g6_0)"/>
<circle cx="438.8" cy="586.7" r="5.1" fill="url(#g6_0)"/>
<circle cx="431.3" cy="663.2" r="5.9" fill="url(#g6_1)"/>
<circle cx="384.6" cy="684.4" r="5.4" fill="url(#g6_1)"/>
<circle cx="348.4" cy="597.5" r="5.8" fill="url(#g6_1)"/>
<circle cx="370.0" cy="642.4" r="5.9" fill="url(#g6_1)"/>
<circle cx="475.3" cy="643.2" r="5.1" fill="url(#g6_0)"/>
<circle cx="369.3" cy="653.5" r="5.6" fill="url(#g6_0)"/>
<circle cx="408.8" cy="576.8" r="5.5" fill="url(#g6_1)"/>
<circle cx="348.4" cy="642.1" r="5.1" fill="url(#g6_1)"/>
<circle cx="497.0" cy="640.3" r="5.3" fill="url(#g6_0)"/>
<circle cx="369.1" cy="665.3" r="5.5" fill="url(#g6_0)"/>
<circle cx="386.7" cy="665.4" r="5.8" fill="url(#g6_1)"/>
<circle cx="516.7" cy="618.3" r="5.3" fill="url(#g6_1)"/>
<circle cx="436.9" cy="652.4" r="5.0" fill="url(#g6_0)"/>
<circle cx="490.0" cy="684.4" r="5.4" fill="url(#g6_0)"/>
<circle cx="460.6" cy="674.6" r="5.0" fill="url(#g6_0)"/>
<circle cx="474.5" cy="587.4" r="5.5" fill="url(#g6_1)"/>
<circle cx="360.1" cy="576.8" r="5.0" fill="url(#g6_0)"/>
<circle cx="452.0" cy="646.1" r="5.1" fill="url(#g6_1)"/>
<circle cx="439.1" cy="604.1" r="5.5" fill="url(#g6_1)"/>
<circle cx="518.4" cy="631.1" r="5.8" fill="url(#g6_1)"/>
<circle cx="408.5" cy="684.4" r="5.3" fill="url(#g6_0)"/>
<circle cx="440.9" cy="623.5" r="5.3" fill="url(#g6_1)"/>
<circle cx="358.6" cy="613.9" r="5.6" fill="url(#g6_0)"/>
<circle cx="411.2" cy="626.2" r="5.9" fill="url(#g6_1)"/>
<circle cx="400.9" cy="653.5" r="5.5" fill="url(#g6_0)"/>
<circle cx="378.8" cy="587.9" r="5.2" fill="url(#g6_0)"/>
<circle cx="504.1" cy="617.1" r="5.2" fill="url(#g6_1)"/>
<circle cx="415.2" cy="586.7" r="5.3" fill="url(#g6_0)"/>
<circle cx="527.6" cy="636.9" r="5.7" fill="url(#g6_1)"/>
<circle cx="454.2" cy="664.9" r="5.6" fill="url(#g6_0)"/>
<circle cx="450.9" cy="618.5" r="5.8" fill="url(#g6_0)"/>
<circle cx="462.1" cy="615.5" r="5.4" fill="url(#g6_0)"/>
<circle cx="478.4" cy="631.9" r="5.7" fill="url(#g6_1)"/>
<circle cx="377.8" cy="601.1" r="5.6" fill="url(#g6_1)"/>
<circle cx="416.8" cy="607.2" r="5.9" fill="url(#g6_1)"/>
<circle cx="397.5" cy="611.3" r="5.3" fill="url(#g6_0)"/>
<circle cx="412.5" cy="636.0" r="5.4" fill="url(#g6_1)"/>
<circle cx="358.2" cy="589.8" r="5.6" fill="url(#g6_0)"/>
<circle cx="527.6" cy="660.2" r="5.6" fill="url(#g6_0)"/>
<circle cx="380.9" cy="637.1" r="5.1" fill="url(#g6_1)"/>
<circle cx="469.0" cy="597.7" r="5.7" fill="url(#g6_1)"/>
<circle cx="403.0" cy="587.2" r="5.4" fill="url(#g6_1)"/>
<circle cx="499.1" cy="663.1" r="5.9" fill="url(#g6_1)"/>
<circle cx="463.0" cy="587.1" r="5.7" fill="url(#g6_0)"/>
<circle cx="367.7" cy="585.2" r="5.1" fill="url(#g6_0)"/>
<circle cx="496.9" cy="587.3" r="5.5" fill="url(#g6_1)"/>
<circle cx="519.2" cy="585.7" r="5.1" fill="url(#g6_1)"/>
<circle cx="501.5" cy="684.4" r="5.3" fill="url(#g6_0)"/>
<circle cx="439.7" cy="613.5" r="5.7" fill="url(#g6_0)"/>
<circle cx="368.5" cy="607.9" r="5.9" fill="url(#g6_1)"/>
<circle cx="367.7" cy="676.0" r="5.1" fill="url(#g6_0)"/>
<circle cx="527.6" cy="624.7" r="5.2" fill="url(#g6_0)"/>
<circle cx="445.4" cy="596.0" r="5.3" fill="url(#g6_1)"/>
<circle cx="369.8" cy="631.3" r="5.0" fill="url(#g6_1)"/>
<circle cx="495.5" cy="673.9" r="5.6" fill="url(#g6_1)"/>
<circle cx="470.7" cy="622.4" r="5.8" fill="url(#g6_0)"/>
<circle cx="459.5" cy="655.1" r="5.5" fill="url(#g6_0)"/>
<circle cx="420.9" cy="576.8" r="5.7" fill="url(#g6_0)"/>
<circle cx="413.3" cy="653.2" r="5.1" fill="url(#g6_0)"/>
<circle cx="378.5" cy="659.7" r="5.7" fill="url(#g6_0)"/>
<circle cx="358.3" cy="671.5" r="5.5" fill="url(#g6_1)"/>
<circle cx="506.0" cy="648.9" r="5.1" fill="url(#g6_0)"/>
<circle cx="430.1" cy="620.8" r="5.2" fill="url(#g6_0)"/>
<circle cx="456.9" cy="576.8" r="5.5" fill="url(#g6_0)"/>
<circle cx="405.5" cy="644.3" r="5.6" fill="url(#g6_0)"/>
<circle cx="477.6" cy="663.8" r="5.4" fill="url(#g6_1)"/>
<circle cx="348.4" cy="586.7" r="5.2" fill="url(#g6_1)"/>
<circle cx="408.6" cy="615.7" r="5.8" fill="url(#g6_0)"/>
<circle cx="348.4" cy="631.0" r="5.1" fill="url(#g6_0)"/>
<circle cx="359.0" cy="659.5" r="5.3" fill="url(#g6_0)"/>
<circle cx="527.6" cy="684.4" r="5.2" fill="url(#g6_1)"/>
<circle cx="468.6" cy="576.8" r="5.8" fill="url(#g6_0)"/>
<circle cx="421.6" cy="597.3" r="5.6" fill="url(#g6_1)"/>
<circle cx="448.5" cy="674.5" r="5.8" fill="url(#g6_1)"/>
<circle cx="507.7" cy="637.3" r="5.9" fill="url(#g6_1)"/>
<circle cx="397.3" cy="664.3" r="5.1" fill="url(#g6_0)"/>
<circle cx="454.8" cy="684.4" r="5.4" fill="url(#g6_1)"/>
<circle cx="478.4" cy="684.4" r="5.1" fill="url(#g6_1)"/>
<circle cx="408.4" cy="663.5" r="5.3" fill="url(#g6_1)"/>
<circle cx="447.6" cy="655.1" r="5.4" fill="url(#g6_0)"/>
<circle cx="481.4" cy="620.0" r="5.5" fill="url(#g6_1)"/>
<circle cx="517.2" cy="642.9" r="5.0" fill="url(#g6_0)"/>
<circle cx="386.8" cy="595.7" r="5.1" fill="url(#g6_1)"/>
<circle cx="517.4" cy="654.0" r="5.8" fill="url(#g6_0)"/>
<circle cx="348.4" cy="664.0" r="5.1" fill="url(#g6_1)"/>
<circle cx="494.5" cy="652.0" r="5.6" fill="url(#g6_1)"/>
<circle cx="499.2" cy="628.5" r="5.5" fill="url(#g6_1)"/>
<circle cx="359.0" cy="625.5" r="5.0" fill="url(#g6_0)"/>
<circle cx="420.0" cy="618.5" r="5.1" fill="url(#g6_0)"/>
<circle cx="480.1" cy="576.8" r="5.0" fill="url(#g6_0)"/>
<circle cx="348.4" cy="674.6" r="5.0" fill="url(#g6_0)"/>
<circle cx="464.1" cy="645.0" r="5.8" fill="url(#g6_1)"/>
<circle cx="434.8" cy="632.2" r="5.4" fill="url(#g6_1)"/>
<circle cx="482.8" cy="652.9" r="5.0" fill="url(#g6_0)"/>
<circle cx="388.8" cy="618.9" r="5.9" fill="url(#g6_1)"/>
<circle cx="378.8" cy="673.3" r="5.1" fill="url(#g6_1)"/>
<circle cx="402.8" cy="674.2" r="5.5" fill="url(#g6_0)"/>
<circle cx="369.1" cy="619.7" r="5.4" fill="url(#g6_0)"/>
<circle cx="410.1" cy="596.2" r="5.7" fill="url(#g6_1)"/>
<circle cx="527.6" cy="648.5" r="5.0" fill="url(#g6_0)"/>
<circle cx="443.0" cy="684.4" r="5.2" fill="url(#g6_1)"/>
<circle cx="397.5" cy="598.0" r="5.8" fill="url(#g6_1)"/>
<circle cx="389.8" cy="654.4" r="5.5" fill="url(#g6_1)"/>
<circle cx="517.4" cy="666.0" r="5.3" fill="url(#g6_0)"/>
<circle cx="420.0" cy="684.4" r="5.3" fill="url(#g6_0)"/>
<circle cx="527.6" cy="589.7" r="5.3" fill="url(#g6_0)"/>
<circle cx="444.8" cy="576.8" r="5.0" fill="url(#g6_1)"/>
<circle cx="431.4" cy="684.4" r="5.0" fill="url(#g6_1)"/>
<circle cx="508.3" cy="587.1" r="5.6" fill="url(#g6_1)"/>
<circle cx="479.9" cy="598.6" r="5.6" fill="url(#g6_0)"/>
<circle cx="456.2" cy="636.8" r="5.1" fill="url(#g6_1)"/>
<circle cx="508.2" cy="660.2" r="5.3" fill="url(#g6_1)"/>
<circle cx="405.8" cy="605.2" r="5.9" fill="url(#g6_1)"/>
<circle cx="518.5" cy="677.0" r="5.1" fill="url(#g6_1)"/>
<circle cx="368.6" cy="595.9" r="5.4" fill="url(#g6_0)"/>
<circle cx="419.8" cy="663.4" r="5.7" fill="url(#g6_0)"/>
<circle cx="432.8" cy="576.8" r="5.0" fill="url(#g6_1)"/>
<circle cx="527.6" cy="613.3" r="5.3" fill="url(#g6_1)"/>
<circle cx="397.0" cy="576.8" r="5.2" fill="url(#g6_0)"/>
<circle cx="497.1" cy="607.7" r="5.7" fill="url(#g6_1)"/>
<circle cx="473.6" cy="609.9" r="5.7" fill="url(#g6_1)"/>
<circle cx="471.3" cy="654.1" r="5.7" fill="url(#g6_0)"/>
<circle cx="459.0" cy="626.2" r="5.8" fill="url(#g6_1)"/>
<circle cx="514.9" cy="576.8" r="5.8" fill="url(#g6_0)"/>
<circle cx="396.8" cy="684.4" r="5.7" fill="url(#g6_0)"/>
<circle cx="414.3" cy="673.9" r="5.5" fill="url(#g6_0)"/>
<circle cx="373.1" cy="684.4" r="5.0" fill="url(#g6_1)"/>
<circle cx="348.4" cy="619.9" r="5.3" fill="url(#g6_1)"/>
<circle cx="379.5" cy="625.4" r="5.6" fill="url(#g6_0)"/>
<circle cx="518.9" cy="607.3" r="5.0" fill="url(#g6_0)"/>
<circle cx="485.6" cy="587.6" r="5.4" fill="url(#g6_0)"/>
<circle cx="373.2" cy="576.8" r="5.0" fill="url(#g6_1)"/>
<circle cx="447.6" cy="631.0" r="5.0" fill="url(#g6_1)"/>
<circle cx="426.9" cy="586.7" r="5.7" fill="url(#g6_0)"/>
<circle cx="451.0" cy="586.3" r="5.9" fill="url(#g6_1)"/>
<circle cx="472.4" cy="674.3" r="5.0" fill="url(#g6_1)"/>
<circle cx="399.6" cy="623.0" r="5.6" fill="url(#g6_0)"/>
<circle cx="527.6" cy="600.9" r="5.1" fill="url(#g6_1)"/>
<circle cx="425.3" cy="653.0" r="5.6" fill="url(#g6_0)"/>
<circle cx="467.6" cy="633.9" r="5.2" fill="url(#g6_0)"/>
<circle cx="388.2" cy="606.7" r="5.6" fill="url(#g6_1)"/>
<circle cx="359.2" cy="636.8" r="5.2" fill="url(#g6_1)"/>
<circle cx="419.1" cy="643.3" r="5.1" fill="url(#g6_0)"/>
<circle cx="488.8" cy="630.2" r="5.0" fill="url(#g6_1)"/>
<circle cx="484.1" cy="674.0" r="5.8" fill="url(#g6_1)"/>
<circle cx="360.1" cy="684.4" r="5.3" fill="url(#g6_0)"/>
<circle cx="515.8" cy="596.5" r="5.0" fill="url(#g6_1)"/>
<circle cx="491.4" cy="597.9" r="5.1" fill="url(#g6_1)"/>
<circle cx="503.1" cy="576.8" r="5.6" fill="url(#g6_0)"/>
<circle cx="436.9" cy="674.2" r="5.8" fill="url(#g6_1)"/>
<circle cx="512.7" cy="684.4" r="5.0" fill="url(#g6_1)"/>
<circle cx="358.6" cy="601.9" r="5.4" fill="url(#g6_0)"/>
<circle cx="348.4" cy="684.4" r="5.3" fill="url(#g6_0)"/>
<circle cx="348.4" cy="608.6" r="5.0" fill="url(#g6_1)"/>
<circle cx="390.3" cy="630.8" r="5.1" fill="url(#g6_0)"/>
</g></g>
<text x="415.6" y="578.6" font-size="11.5" fill="#1d2352" stroke="#1d2352" stroke-width="0.3" font-family="'Liberation Serif', serif" font-style="italic">f</text>
<text x="420.5" y="578.6" font-size="7.5" fill="#1d2352" stroke="#1d2352" stroke-width="0.3" font-family="'Liberation Serif', serif" font-style="italic">r</text>
<text x="425.8" y="578.6" font-size="10.5" fill="#1d2352" stroke="#1d2352" stroke-width="0.4" textLength="31.9" lengthAdjust="spacingAndGlyphs">= 1.30</text>
<text x="490" y="665.6" font-size="7.8" fill="#000" stroke="#000" stroke-width="0.25" textLength="26.9" lengthAdjust="spacingAndGlyphs">200 μm</text>
<rect x="491.6" y="669.1" width="23.3" height="3.3" fill="#000"/></svg>
</body></html>
